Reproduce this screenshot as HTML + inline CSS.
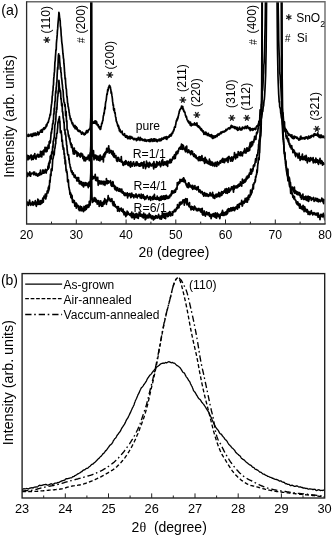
<!DOCTYPE html>
<html lang="en"><head><meta charset="utf-8"><title>XRD patterns</title>
<style>
html,body{margin:0;padding:0;background:#fff;}
body{width:333px;height:537px;overflow:hidden;}
svg text{font-family:"Liberation Sans", Arial, Helvetica, sans-serif;fill:#000;}
</style></head><body>
<svg width="333" height="537" viewBox="0 0 333 537" style="display:block">
<rect width="333" height="537" fill="#fff"/>
<defs><clipPath id="c1"><rect x="26.6" y="1.8" width="298.4" height="222.2"/></clipPath>
<clipPath id="c2"><rect x="22.1" y="273.6" width="302.6" height="224.4"/></clipPath></defs>
<g clip-path="url(#c1)">
<polyline points="26.6,136.9 26.8,135.4 27.1,135.7 27.3,136.0 27.6,135.0 27.8,135.7 28.1,135.8 28.3,134.4 28.6,136.4 28.8,136.0 29.1,135.3 29.3,135.7 29.6,135.9 29.8,135.4 30.1,135.3 30.3,134.3 30.6,135.6 30.8,135.2 31.1,135.4 31.3,134.0 31.6,136.3 31.8,135.3 32.1,134.8 32.3,136.4 32.6,134.8 32.8,133.8 33.1,134.7 33.3,133.3 33.6,135.7 33.8,134.6 34.1,134.2 34.3,135.4 34.6,133.5 34.8,134.9 35.1,132.9 35.3,133.9 35.6,133.6 35.8,135.5 36.0,135.5 36.3,133.9 36.5,134.7 36.8,133.7 37.0,134.2 37.3,133.0 37.5,132.1 37.8,131.9 38.0,133.6 38.3,135.0 38.5,133.3 38.8,132.6 39.0,134.3 39.3,133.0 39.5,132.4 39.8,132.3 40.0,131.9 40.3,131.5 40.5,130.4 40.8,131.7 41.0,131.4 41.3,132.2 41.5,130.9 41.8,129.6 42.0,130.9 42.3,132.2 42.5,130.1 42.8,129.5 43.0,129.0 43.3,128.7 43.5,128.8 43.8,127.8 44.0,129.5 44.3,127.8 44.5,127.7 44.8,128.8 45.0,128.5 45.3,127.0 45.5,127.4 45.7,127.5 46.0,126.5 46.2,124.8 46.5,126.5 46.7,126.0 47.0,125.1 47.2,123.4 47.5,123.5 47.7,122.9 48.0,122.1 48.2,122.5 48.5,121.7 48.7,120.0 49.0,119.2 49.2,118.4 49.5,117.4 49.7,116.7 50.0,114.8 50.2,114.0 50.5,114.9 50.7,112.2 51.0,109.0 51.2,106.7 51.5,104.3 51.7,103.4 52.0,100.6 52.2,96.2 52.5,95.5 52.7,91.5 53.0,90.5 53.2,86.1 53.5,84.8 53.7,79.2 54.0,76.4 54.2,73.7 54.5,71.4 54.7,67.6 54.9,62.4 55.2,60.6 55.4,57.1 55.7,53.3 55.9,49.9 56.2,50.0 56.4,43.6 56.7,40.0 56.9,38.4 57.2,34.9 57.4,31.1 57.7,28.4 57.9,24.8 58.2,21.4 58.4,19.3 58.7,16.0 58.9,12.4 59.2,13.6 59.4,15.6 59.7,18.5 59.9,19.4 60.2,21.0 60.4,26.3 60.7,27.6 60.9,29.5 61.2,35.3 61.4,36.8 61.7,41.3 61.9,43.1 62.2,44.9 62.4,47.2 62.7,50.5 62.9,53.5 63.2,55.3 63.4,58.1 63.7,59.2 63.9,63.7 64.1,64.7 64.4,69.1 64.6,72.7 64.9,75.8 65.1,79.1 65.4,78.1 65.6,83.0 65.9,86.0 66.1,88.5 66.4,89.1 66.6,93.0 66.9,97.3 67.1,96.6 67.4,100.5 67.6,103.1 67.9,103.6 68.1,106.7 68.4,106.9 68.6,108.6 68.9,109.9 69.1,112.2 69.4,113.4 69.6,115.8 69.9,115.6 70.1,117.6 70.4,119.3 70.6,119.6 70.9,118.5 71.1,120.8 71.4,120.5 71.6,121.9 71.9,122.3 72.1,123.8 72.4,123.9 72.6,122.9 72.9,123.6 73.1,125.5 73.3,125.3 73.6,126.5 73.8,126.2 74.1,125.6 74.3,127.4 74.6,126.2 74.8,125.4 75.1,128.8 75.3,125.9 75.6,128.1 75.8,128.4 76.1,127.9 76.3,126.9 76.6,129.1 76.8,127.6 77.1,128.0 77.3,129.1 77.6,130.5 77.8,130.1 78.1,131.1 78.3,130.3 78.6,130.7 78.8,130.0 79.1,130.8 79.3,131.7 79.6,130.9 79.8,131.6 80.1,130.9 80.3,131.3 80.6,132.0 80.8,132.1 81.1,132.9 81.3,132.9 81.6,134.2 81.8,132.8 82.1,132.7 82.3,132.1 82.6,133.0 82.8,133.4 83.0,132.9 83.3,133.6 83.5,134.4 83.8,133.8 84.0,133.5 84.3,134.8 84.5,134.0 84.8,133.9 85.0,134.4 85.3,134.3 85.5,132.7 85.8,132.1 86.0,132.5 86.3,132.0 86.5,130.5 86.8,132.8 87.0,132.1 87.3,132.6 87.5,130.8 87.8,132.4 88.0,130.9 88.3,131.0 88.5,129.5 88.8,130.1 89.0,129.8 89.3,129.3 89.5,129.4 89.8,128.6 90.0,128.6 90.3,126.3 90.5,123.4 90.8,117.5 91.0,83.6 91.3,-20.0 91.5,82.8 91.8,113.6 92.0,121.3 92.2,123.7 92.5,123.0 92.7,122.6 93.0,123.0 93.2,122.1 93.5,122.7 93.7,122.0 94.0,123.1 94.2,122.3 94.5,121.1 94.7,122.4 95.0,123.2 95.2,122.1 95.5,122.2 95.7,120.9 96.0,123.9 96.2,122.7 96.5,121.6 96.7,122.1 97.0,123.9 97.2,125.1 97.5,124.6 97.7,125.7 98.0,124.6 98.2,124.7 98.5,126.9 98.7,127.0 99.0,126.9 99.2,128.0 99.5,126.5 99.7,127.3 100.0,128.9 100.2,129.5 100.5,127.9 100.7,129.1 101.0,126.5 101.2,126.7 101.4,125.4 101.7,123.2 101.9,123.8 102.2,123.3 102.4,121.7 102.7,120.5 102.9,120.7 103.2,117.1 103.4,115.7 103.7,115.2 103.9,112.8 104.2,113.8 104.4,111.4 104.7,108.5 104.9,107.1 105.2,108.9 105.4,104.1 105.7,102.2 105.9,101.2 106.2,100.2 106.4,98.4 106.7,95.5 106.9,93.8 107.2,94.4 107.4,92.6 107.7,89.5 107.9,91.0 108.2,89.8 108.4,87.9 108.7,87.1 108.9,87.0 109.2,86.0 109.4,85.3 109.7,87.4 109.9,85.8 110.2,88.0 110.4,87.0 110.6,89.0 110.9,90.0 111.1,93.3 111.4,91.9 111.6,93.1 111.9,95.4 112.1,96.5 112.4,98.8 112.6,101.4 112.9,103.1 113.1,105.5 113.4,104.7 113.6,109.6 113.9,110.5 114.1,109.3 114.4,108.8 114.6,112.2 114.9,113.4 115.1,112.5 115.4,115.7 115.6,117.0 115.9,117.4 116.1,120.0 116.4,121.7 116.6,121.2 116.9,122.9 117.1,123.0 117.4,124.0 117.6,125.4 117.9,126.2 118.1,126.2 118.4,125.3 118.6,128.2 118.9,126.9 119.1,128.7 119.4,130.8 119.6,129.8 119.9,129.3 120.1,129.6 120.3,131.8 120.6,131.2 120.8,131.8 121.1,132.5 121.3,132.4 121.6,132.5 121.8,132.5 122.1,131.2 122.3,133.0 122.6,134.4 122.8,134.0 123.1,134.8 123.3,134.6 123.6,135.1 123.8,135.4 124.1,134.1 124.3,134.9 124.6,133.7 124.8,135.9 125.1,135.3 125.3,136.0 125.6,137.2 125.8,136.9 126.1,136.4 126.3,137.1 126.6,135.6 126.8,137.4 127.1,137.4 127.3,136.2 127.6,138.6 127.8,137.1 128.1,138.3 128.3,137.2 128.6,138.4 128.8,138.5 129.1,136.8 129.3,136.3 129.5,137.5 129.8,138.6 130.0,137.8 130.3,137.7 130.5,138.8 130.8,136.4 131.0,137.9 131.3,137.1 131.5,138.1 131.8,137.6 132.0,137.4 132.3,138.1 132.5,137.4 132.8,138.8 133.0,138.6 133.3,138.7 133.5,138.6 133.8,139.7 134.0,139.0 134.3,139.2 134.5,139.1 134.8,138.3 135.0,139.4 135.3,139.3 135.5,139.4 135.8,139.0 136.0,138.9 136.3,139.9 136.5,140.7 136.8,138.5 137.0,139.3 137.3,138.6 137.5,139.7 137.8,139.3 138.0,140.0 138.3,137.4 138.5,139.1 138.7,138.8 139.0,139.4 139.2,138.9 139.5,138.6 139.7,139.5 140.0,140.5 140.2,137.3 140.5,139.1 140.7,139.8 141.0,139.6 141.2,139.4 141.5,138.5 141.7,138.8 142.0,140.1 142.2,140.4 142.5,139.9 142.7,139.4 143.0,140.3 143.2,140.0 143.5,140.5 143.7,140.1 144.0,139.6 144.2,140.3 144.5,139.4 144.7,140.8 145.0,141.2 145.2,139.6 145.5,140.8 145.7,139.6 146.0,141.0 146.2,141.1 146.5,140.3 146.7,141.4 147.0,140.3 147.2,140.1 147.5,140.2 147.7,140.4 147.9,140.1 148.2,140.4 148.4,139.9 148.7,141.1 148.9,141.4 149.2,140.2 149.4,139.6 149.7,141.0 149.9,141.5 150.2,140.4 150.4,139.5 150.7,140.8 150.9,141.4 151.2,138.8 151.4,140.4 151.7,139.8 151.9,139.5 152.2,140.5 152.4,139.3 152.7,140.7 152.9,141.4 153.2,140.5 153.4,139.6 153.7,139.0 153.9,139.3 154.2,138.8 154.4,141.1 154.7,140.0 154.9,139.4 155.2,139.1 155.4,139.3 155.7,139.8 155.9,139.3 156.2,141.3 156.4,139.7 156.7,139.7 156.9,140.6 157.2,141.4 157.4,141.5 157.6,140.1 157.9,140.7 158.1,140.3 158.4,140.7 158.6,140.5 158.9,139.6 159.1,139.1 159.4,140.1 159.6,139.3 159.9,141.0 160.1,139.9 160.4,139.0 160.6,139.8 160.9,139.5 161.1,139.7 161.4,140.4 161.6,138.5 161.9,138.1 162.1,139.5 162.4,138.8 162.6,139.1 162.9,139.0 163.1,138.5 163.4,139.0 163.6,137.7 163.9,138.4 164.1,137.6 164.4,137.4 164.6,138.4 164.9,138.5 165.1,136.8 165.4,137.4 165.6,138.4 165.9,138.8 166.1,137.6 166.4,137.9 166.6,136.6 166.8,139.5 167.1,137.9 167.3,138.2 167.6,137.8 167.8,137.8 168.1,137.5 168.3,136.6 168.6,137.3 168.8,136.5 169.1,137.2 169.3,135.5 169.6,135.2 169.8,136.0 170.1,136.2 170.3,135.2 170.6,134.3 170.8,134.6 171.1,134.2 171.3,135.8 171.6,134.7 171.8,134.5 172.1,133.6 172.3,132.4 172.6,133.3 172.8,132.9 173.1,131.6 173.3,130.8 173.6,131.1 173.8,129.5 174.1,129.8 174.3,127.8 174.6,126.9 174.8,127.5 175.1,126.6 175.3,127.3 175.6,124.7 175.8,124.3 176.0,122.6 176.3,121.1 176.5,120.3 176.8,121.0 177.0,118.9 177.3,119.9 177.5,119.3 177.8,117.1 178.0,118.1 178.3,115.9 178.5,115.7 178.8,113.7 179.0,113.7 179.3,111.2 179.5,111.5 179.8,109.9 180.0,109.5 180.3,109.6 180.5,108.8 180.8,108.2 181.0,108.6 181.3,108.5 181.5,106.2 181.8,107.8 182.0,107.8 182.3,106.4 182.5,107.8 182.8,106.6 183.0,109.6 183.3,108.7 183.5,109.3 183.8,111.4 184.0,110.7 184.3,112.0 184.5,111.4 184.8,112.4 185.0,112.5 185.2,113.9 185.5,115.7 185.7,115.7 186.0,117.1 186.2,116.1 186.5,116.9 186.7,117.9 187.0,119.7 187.2,119.9 187.5,120.0 187.7,121.1 188.0,121.0 188.2,121.6 188.5,122.5 188.7,121.2 189.0,122.1 189.2,123.4 189.5,122.3 189.7,123.3 190.0,122.8 190.2,125.2 190.5,122.2 190.7,123.4 191.0,123.8 191.2,125.9 191.5,124.8 191.7,124.5 192.0,123.9 192.2,125.1 192.5,125.0 192.7,124.5 193.0,124.0 193.2,124.0 193.5,124.8 193.7,124.9 194.0,124.5 194.2,123.9 194.5,122.9 194.7,124.8 194.9,123.9 195.2,124.6 195.4,124.9 195.7,124.2 195.9,123.9 196.2,125.4 196.4,125.1 196.7,124.4 196.9,122.8 197.2,125.4 197.4,126.0 197.7,126.6 197.9,125.5 198.2,125.9 198.4,126.2 198.7,127.4 198.9,126.0 199.2,127.2 199.4,126.8 199.7,128.1 199.9,127.0 200.2,128.8 200.4,128.5 200.7,128.9 200.9,129.8 201.2,130.3 201.4,128.5 201.7,130.7 201.9,130.5 202.2,130.0 202.4,131.4 202.7,130.9 202.9,132.0 203.2,130.8 203.4,131.3 203.7,133.2 203.9,134.3 204.1,133.4 204.4,133.8 204.6,132.9 204.9,132.3 205.1,133.3 205.4,134.4 205.6,132.0 205.9,133.1 206.1,132.3 206.4,133.9 206.6,134.5 206.9,133.4 207.1,134.1 207.4,135.5 207.6,134.8 207.9,133.8 208.1,133.9 208.4,133.3 208.6,135.4 208.9,134.5 209.1,135.9 209.4,135.9 209.6,134.8 209.9,135.3 210.1,136.4 210.4,135.9 210.6,136.0 210.9,134.8 211.1,136.8 211.4,135.4 211.6,134.6 211.9,136.0 212.1,136.9 212.4,138.3 212.6,136.6 212.9,135.9 213.1,138.3 213.3,137.0 213.6,136.6 213.8,136.0 214.1,136.0 214.3,137.7 214.6,136.3 214.8,136.0 215.1,135.9 215.3,137.4 215.6,135.9 215.8,136.8 216.1,136.5 216.3,136.3 216.6,135.2 216.8,136.1 217.1,136.6 217.3,135.3 217.6,134.4 217.8,134.2 218.1,135.3 218.3,135.0 218.6,135.0 218.8,134.7 219.1,133.5 219.3,134.8 219.6,134.1 219.8,133.3 220.1,133.3 220.3,133.5 220.6,132.9 220.8,132.2 221.1,133.7 221.3,132.5 221.6,132.3 221.8,131.9 222.1,132.7 222.3,131.7 222.5,131.8 222.8,132.2 223.0,131.7 223.3,132.1 223.5,131.8 223.8,131.3 224.0,131.4 224.3,131.2 224.5,131.9 224.8,131.3 225.0,130.8 225.3,131.3 225.5,130.6 225.8,130.1 226.0,129.3 226.3,130.7 226.5,130.5 226.8,130.3 227.0,129.6 227.3,129.1 227.5,129.2 227.8,129.1 228.0,128.4 228.3,128.2 228.5,127.9 228.8,128.5 229.0,128.5 229.3,127.8 229.5,129.0 229.8,128.7 230.0,128.7 230.3,127.7 230.5,127.2 230.8,126.2 231.0,127.6 231.3,125.4 231.5,126.4 231.8,126.4 232.0,127.4 232.2,127.0 232.5,126.2 232.7,126.0 233.0,126.7 233.2,127.4 233.5,127.3 233.7,127.3 234.0,127.0 234.2,127.6 234.5,128.3 234.7,126.7 235.0,127.7 235.2,128.7 235.5,128.1 235.7,127.2 236.0,128.3 236.2,127.3 236.5,128.1 236.7,129.3 237.0,129.5 237.2,127.4 237.5,129.1 237.7,130.3 238.0,128.4 238.2,129.0 238.5,130.0 238.7,128.4 239.0,129.1 239.2,128.6 239.5,127.1 239.7,128.7 240.0,128.2 240.2,129.0 240.5,129.9 240.7,129.1 241.0,128.7 241.2,129.4 241.4,129.3 241.7,129.9 241.9,128.0 242.2,127.9 242.4,127.1 242.7,128.9 242.9,128.5 243.2,127.9 243.4,127.9 243.7,127.8 243.9,127.5 244.2,127.9 244.4,127.6 244.7,128.6 244.9,127.4 245.2,126.4 245.4,126.4 245.7,127.8 245.9,127.2 246.2,127.0 246.4,127.5 246.7,128.4 246.9,126.4 247.2,126.6 247.4,125.8 247.7,127.6 247.9,127.1 248.2,127.1 248.4,127.3 248.7,128.4 248.9,128.1 249.2,128.0 249.4,129.4 249.7,127.9 249.9,127.7 250.2,130.7 250.4,128.6 250.6,128.6 250.9,128.6 251.1,129.1 251.4,130.0 251.6,129.9 251.9,130.0 252.1,129.4 252.4,128.5 252.6,129.6 252.9,130.3 253.1,130.0 253.4,128.8 253.6,129.6 253.9,128.6 254.1,128.9 254.4,128.3 254.6,129.0 254.9,129.2 255.1,128.7 255.4,129.2 255.6,129.6 255.9,129.0 256.1,127.3 256.4,126.7 256.6,126.5 256.9,125.8 257.1,126.4 257.4,126.2 257.6,125.8 257.9,125.5 258.1,124.8 258.4,124.5 258.6,123.5 258.9,125.2 259.1,124.2 259.4,121.9 259.6,121.7 259.8,121.4 260.1,121.3 260.3,121.6 260.6,120.6 260.8,120.1 261.1,119.1 261.3,118.5 261.6,117.1 261.8,115.7 262.1,114.1 262.3,111.6 262.6,111.7 262.8,111.3 263.1,107.9 263.3,106.3 263.6,106.0 263.8,103.0 264.1,100.2 264.3,99.8 264.6,95.9 264.8,92.4 265.1,87.0 265.3,82.5 265.6,75.4 265.8,65.9 266.1,51.3 266.3,30.2 266.6,-2.7 266.8,-20.0 267.1,-20.0 267.3,-20.0 267.6,-20.0 267.8,-20.0 268.1,-20.0 268.3,-20.0 268.6,-20.0 268.8,-20.0 269.1,-20.0 269.3,-20.0 269.5,-20.0 269.8,-20.0 270.0,-20.0 270.3,-20.0 270.5,-20.0 270.8,-20.0 271.0,-20.0 271.3,-20.0 271.5,-20.0 271.8,-20.0 272.0,-20.0 272.3,-20.0 272.5,-20.0 272.8,-20.0 273.0,-20.0 273.3,-20.0 273.5,-20.0 273.8,-20.0 274.0,-20.0 274.3,-20.0 274.5,-20.0 274.8,-20.0 275.0,-20.0 275.3,-20.0 275.5,-20.0 275.8,-20.0 276.0,-20.0 276.3,-20.0 276.5,-20.0 276.8,-20.0 277.0,-7.4 277.3,27.6 277.5,48.9 277.8,65.1 278.0,76.4 278.3,84.6 278.5,89.0 278.7,94.3 279.0,98.6 279.2,102.3 279.5,101.5 279.7,106.6 280.0,107.8 280.2,107.8 280.5,109.5 280.7,112.7 281.0,114.0 281.2,115.9 281.5,118.1 281.7,118.3 282.0,119.8 282.2,121.1 282.5,122.4 282.7,124.2 283.0,125.1 283.2,124.6 283.5,124.9 283.7,127.9 284.0,127.1 284.2,127.4 284.5,126.9 284.7,129.2 285.0,128.2 285.2,129.0 285.5,128.8 285.7,129.9 286.0,130.6 286.2,129.7 286.5,131.0 286.7,131.7 287.0,131.1 287.2,131.4 287.5,132.3 287.7,132.3 287.9,134.0 288.2,133.3 288.4,134.9 288.7,135.3 288.9,133.8 289.2,134.9 289.4,134.6 289.7,134.3 289.9,134.9 290.2,135.1 290.4,136.0 290.7,136.4 290.9,135.0 291.2,135.8 291.4,136.8 291.7,137.5 291.9,134.8 292.2,137.8 292.4,136.9 292.7,138.3 292.9,137.1 293.2,136.7 293.4,137.6 293.7,138.7 293.9,138.0 294.2,136.0 294.4,138.2 294.7,137.0 294.9,137.4 295.2,137.2 295.4,136.6 295.7,137.1 295.9,137.3 296.2,137.5 296.4,138.1 296.7,137.8 296.9,137.0 297.1,138.0 297.4,138.7 297.6,138.7 297.9,138.2 298.1,138.8 298.4,139.0 298.6,139.6 298.9,140.2 299.1,138.6 299.4,138.5 299.6,139.6 299.9,139.7 300.1,139.7 300.4,136.7 300.6,138.2 300.9,136.0 301.1,139.0 301.4,138.2 301.6,137.9 301.9,137.8 302.1,138.9 302.4,137.7 302.6,138.7 302.9,138.5 303.1,138.5 303.4,138.5 303.6,138.4 303.9,137.6 304.1,138.8 304.4,138.7 304.6,138.2 304.9,139.0 305.1,138.9 305.4,137.0 305.6,137.7 305.9,137.7 306.1,137.0 306.4,137.8 306.6,136.9 306.8,137.4 307.1,138.0 307.3,137.8 307.6,137.7 307.8,139.0 308.1,137.0 308.3,137.3 308.6,136.1 308.8,137.4 309.1,137.9 309.3,138.0 309.6,136.6 309.8,137.0 310.1,137.9 310.3,136.8 310.6,137.4 310.8,135.8 311.1,137.3 311.3,137.0 311.6,136.5 311.8,135.4 312.1,135.5 312.3,135.6 312.6,135.8 312.8,135.4 313.1,135.3 313.3,135.6 313.6,136.7 313.8,134.0 314.1,134.3 314.3,134.1 314.6,134.4 314.8,133.6 315.1,135.2 315.3,135.0 315.6,134.9 315.8,134.4 316.0,135.2 316.3,135.1 316.5,135.2 316.8,134.4 317.0,135.3 317.3,133.8 317.5,135.8 317.8,132.9 318.0,135.0 318.3,134.8 318.5,136.3 318.8,134.8 319.0,137.3 319.3,135.0 319.5,137.3 319.8,136.1 320.0,135.9 320.3,136.3 320.5,137.7 320.8,136.8 321.0,134.8 321.3,137.4 321.5,136.8 321.8,135.5 322.0,137.4 322.3,136.2 322.5,137.1 322.8,137.3 323.0,136.6 323.3,137.5 323.5,136.2 323.8,136.8 324.0,136.3 324.3,136.6 324.5,138.0 324.8,136.7 325.0,135.9" fill="none" stroke="#000" stroke-width="1.7" stroke-linejoin="round" />
<polyline points="26.6,155.6 26.8,159.0 27.1,158.0 27.3,157.6 27.6,155.3 27.8,159.8 28.1,159.1 28.3,158.7 28.6,155.8 28.8,158.5 29.1,158.9 29.3,156.9 29.6,157.1 29.8,156.4 30.1,157.7 30.3,156.4 30.6,156.7 30.8,155.4 31.1,154.9 31.3,158.6 31.6,159.8 31.8,158.6 32.1,159.0 32.3,156.1 32.6,157.0 32.8,157.5 33.1,156.7 33.3,159.4 33.6,155.4 33.8,156.1 34.1,156.2 34.3,155.8 34.6,157.9 34.8,153.6 35.1,157.9 35.3,157.5 35.6,156.4 35.8,157.6 36.0,159.1 36.3,156.1 36.5,156.9 36.8,155.7 37.0,155.8 37.3,154.5 37.5,154.4 37.8,156.3 38.0,154.4 38.3,157.1 38.5,157.0 38.8,155.3 39.0,156.0 39.3,155.1 39.5,154.8 39.8,156.8 40.0,154.8 40.3,154.4 40.5,151.3 40.8,155.3 41.0,151.7 41.3,153.0 41.5,156.5 41.8,156.9 42.0,153.1 42.3,151.3 42.5,154.0 42.8,152.7 43.0,153.2 43.3,150.9 43.5,154.7 43.8,154.8 44.0,149.9 44.3,150.0 44.5,150.0 44.8,151.5 45.0,147.4 45.3,150.8 45.5,149.9 45.7,149.6 46.0,151.9 46.2,147.4 46.5,148.0 46.7,148.8 47.0,151.4 47.2,149.6 47.5,147.8 47.7,149.2 48.0,146.5 48.2,145.2 48.5,144.8 48.7,144.9 49.0,148.3 49.2,141.7 49.5,143.5 49.7,142.0 50.0,140.6 50.2,142.9 50.5,140.6 50.7,138.4 51.0,134.3 51.2,132.1 51.5,133.1 51.7,130.6 52.0,128.3 52.2,129.3 52.5,124.4 52.7,123.3 53.0,124.0 53.2,120.5 53.5,119.9 53.7,113.8 54.0,114.1 54.2,108.0 54.5,109.8 54.7,105.3 54.9,101.6 55.2,101.0 55.4,95.6 55.7,91.1 55.9,93.1 56.2,87.2 56.4,87.0 56.7,82.4 56.9,82.1 57.2,74.1 57.4,70.5 57.7,67.1 57.9,69.1 58.2,59.3 58.4,55.5 58.7,53.8 58.9,56.3 59.2,57.6 59.4,55.6 59.7,61.3 59.9,63.1 60.2,67.8 60.4,69.5 60.7,67.6 60.9,72.1 61.2,72.9 61.4,76.9 61.7,78.8 61.9,80.4 62.2,84.0 62.4,84.7 62.7,88.9 62.9,89.5 63.2,91.8 63.4,96.8 63.7,98.9 63.9,101.4 64.1,102.2 64.4,102.2 64.6,105.0 64.9,106.2 65.1,104.3 65.4,108.5 65.6,115.7 65.9,115.0 66.1,111.4 66.4,119.1 66.6,122.0 66.9,120.8 67.1,129.4 67.4,129.7 67.6,130.8 67.9,130.8 68.1,133.0 68.4,135.7 68.6,136.5 68.9,135.2 69.1,137.8 69.4,138.5 69.6,139.8 69.9,138.4 70.1,141.8 70.4,142.6 70.6,144.1 70.9,144.9 71.1,143.1 71.4,147.3 71.6,147.5 71.9,144.7 72.1,147.4 72.4,147.1 72.6,148.4 72.9,151.3 73.1,151.5 73.3,153.9 73.6,151.6 73.8,149.8 74.1,151.7 74.3,148.0 74.6,154.2 74.8,152.6 75.1,152.9 75.3,152.3 75.6,150.9 75.8,152.0 76.1,151.4 76.3,151.7 76.6,153.3 76.8,151.7 77.1,156.4 77.3,152.5 77.6,155.8 77.8,154.0 78.1,152.8 78.3,155.0 78.6,154.7 78.8,154.4 79.1,154.8 79.3,154.0 79.6,156.1 79.8,154.9 80.1,155.4 80.3,157.2 80.6,153.4 80.8,154.4 81.1,153.9 81.3,153.8 81.6,153.4 81.8,155.4 82.1,156.2 82.3,156.0 82.6,154.4 82.8,158.1 83.0,158.6 83.3,157.6 83.5,156.3 83.8,156.4 84.0,160.8 84.3,160.7 84.5,159.0 84.8,157.2 85.0,160.4 85.3,158.9 85.5,160.9 85.8,157.8 86.0,158.6 86.3,157.9 86.5,159.1 86.8,157.4 87.0,159.4 87.3,157.2 87.5,157.1 87.8,158.8 88.0,158.8 88.3,155.2 88.5,158.5 88.8,158.5 89.0,158.2 89.3,160.7 89.5,156.2 89.8,157.0 90.0,153.7 90.3,152.8 90.5,151.6 90.8,145.4 91.0,110.8 91.3,-20.0 91.5,111.6 91.8,146.3 92.0,151.1 92.2,154.7 92.5,153.5 92.7,155.7 93.0,156.4 93.2,155.0 93.5,150.7 93.7,155.0 94.0,159.8 94.2,155.9 94.5,155.1 94.7,156.6 95.0,158.3 95.2,157.0 95.5,156.6 95.7,155.0 96.0,156.9 96.2,155.7 96.5,157.9 96.7,159.9 97.0,159.7 97.2,157.6 97.5,157.1 97.7,156.1 98.0,159.4 98.2,159.8 98.5,160.2 98.7,159.3 99.0,156.9 99.2,156.2 99.5,160.6 99.7,157.2 100.0,160.8 100.2,155.0 100.5,156.4 100.7,157.0 101.0,158.7 101.2,159.5 101.4,157.9 101.7,159.5 101.9,156.8 102.2,157.6 102.4,156.3 102.7,157.0 102.9,156.4 103.2,157.6 103.4,161.9 103.7,154.0 103.9,155.7 104.2,156.7 104.4,155.3 104.7,157.0 104.9,152.6 105.2,155.0 105.4,152.0 105.7,154.0 105.9,152.2 106.2,152.3 106.4,150.8 106.7,148.4 106.9,149.1 107.2,152.3 107.4,150.8 107.7,151.4 107.9,148.1 108.2,150.8 108.4,151.5 108.7,145.8 108.9,150.1 109.2,153.2 109.4,148.8 109.7,152.2 109.9,151.3 110.2,152.7 110.4,151.0 110.6,150.6 110.9,151.6 111.1,151.4 111.4,150.6 111.6,150.9 111.9,154.1 112.1,151.7 112.4,151.3 112.6,152.6 112.9,155.5 113.1,151.2 113.4,155.6 113.6,156.7 113.9,157.0 114.1,154.1 114.4,153.5 114.6,155.6 114.9,155.9 115.1,157.7 115.4,156.5 115.6,156.3 115.9,155.6 116.1,158.0 116.4,158.7 116.6,160.7 116.9,159.2 117.1,161.5 117.4,161.3 117.6,157.9 117.9,157.4 118.1,157.9 118.4,158.7 118.6,157.5 118.9,159.6 119.1,160.1 119.4,161.2 119.6,160.4 119.9,159.7 120.1,161.0 120.3,159.6 120.6,160.7 120.8,159.3 121.1,161.9 121.3,156.5 121.6,162.0 121.8,162.2 122.1,161.1 122.3,162.0 122.6,162.2 122.8,164.3 123.1,165.1 123.3,162.8 123.6,165.4 123.8,162.4 124.1,164.0 124.3,164.0 124.6,161.7 124.8,164.2 125.1,162.7 125.3,164.4 125.6,162.1 125.8,160.7 126.1,161.1 126.3,162.9 126.6,163.4 126.8,163.7 127.1,162.3 127.3,164.4 127.6,163.2 127.8,163.7 128.1,165.4 128.3,163.9 128.6,161.6 128.8,165.4 129.1,164.0 129.3,163.1 129.5,165.8 129.8,162.8 130.0,164.1 130.3,163.7 130.5,167.1 130.8,161.5 131.0,164.2 131.3,164.7 131.5,165.8 131.8,163.7 132.0,163.5 132.3,166.2 132.5,163.5 132.8,164.3 133.0,163.8 133.3,164.2 133.5,161.8 133.8,163.2 134.0,164.3 134.3,164.7 134.5,166.2 134.8,165.5 135.0,165.5 135.3,163.9 135.5,165.5 135.8,163.0 136.0,163.9 136.3,161.8 136.5,162.2 136.8,165.7 137.0,164.6 137.3,162.0 137.5,164.5 137.8,164.5 138.0,163.5 138.3,165.2 138.5,164.3 138.7,164.9 139.0,166.1 139.2,163.9 139.5,166.0 139.7,164.1 140.0,164.2 140.2,166.1 140.5,164.5 140.7,163.2 141.0,164.3 141.2,165.0 141.5,162.6 141.7,165.6 142.0,164.8 142.2,163.1 142.5,163.2 142.7,165.6 143.0,162.9 143.2,168.1 143.5,163.9 143.7,165.4 144.0,161.5 144.2,165.3 144.5,164.3 144.7,165.8 145.0,165.2 145.2,165.0 145.5,168.6 145.7,166.2 146.0,164.1 146.2,165.6 146.5,161.0 146.7,163.8 147.0,166.7 147.2,164.0 147.5,165.2 147.7,163.1 147.9,166.0 148.2,165.4 148.4,165.0 148.7,166.2 148.9,167.3 149.2,166.0 149.4,162.3 149.7,165.3 149.9,165.3 150.2,163.9 150.4,163.5 150.7,165.6 150.9,165.9 151.2,166.0 151.4,164.7 151.7,166.0 151.9,165.5 152.2,164.6 152.4,165.7 152.7,164.3 152.9,163.3 153.2,165.2 153.4,166.6 153.7,169.0 153.9,161.7 154.2,164.2 154.4,163.5 154.7,165.6 154.9,164.2 155.2,165.8 155.4,167.4 155.7,164.7 155.9,165.5 156.2,167.1 156.4,166.0 156.7,161.5 156.9,166.5 157.2,162.2 157.4,163.7 157.6,163.2 157.9,163.0 158.1,163.1 158.4,165.0 158.6,163.5 158.9,162.7 159.1,163.5 159.4,164.5 159.6,161.5 159.9,165.3 160.1,163.3 160.4,165.8 160.6,166.7 160.9,165.0 161.1,165.4 161.4,163.8 161.6,162.8 161.9,160.7 162.1,162.9 162.4,162.2 162.6,159.4 162.9,163.4 163.1,165.4 163.4,163.5 163.6,165.1 163.9,162.8 164.1,162.0 164.4,163.2 164.6,162.7 164.9,161.9 165.1,164.7 165.4,163.7 165.6,162.2 165.9,163.9 166.1,163.2 166.4,164.1 166.6,165.2 166.8,161.7 167.1,161.0 167.3,164.7 167.6,166.4 167.8,162.0 168.1,161.7 168.3,161.4 168.6,162.8 168.8,162.8 169.1,161.9 169.3,163.0 169.6,160.4 169.8,160.2 170.1,159.3 170.3,162.8 170.6,162.1 170.8,162.7 171.1,159.5 171.3,162.5 171.6,160.3 171.8,160.6 172.1,160.2 172.3,159.0 172.6,158.9 172.8,157.0 173.1,158.6 173.3,158.4 173.6,156.4 173.8,157.5 174.1,158.8 174.3,155.6 174.6,154.6 174.8,155.0 175.1,156.3 175.3,158.3 175.6,155.3 175.8,155.1 176.0,152.2 176.3,154.2 176.5,154.6 176.8,152.2 177.0,152.5 177.3,151.0 177.5,153.0 177.8,153.3 178.0,151.2 178.3,151.7 178.5,150.8 178.8,148.9 179.0,148.2 179.3,148.2 179.5,148.8 179.8,147.4 180.0,148.5 180.3,148.1 180.5,149.1 180.8,148.0 181.0,146.0 181.3,147.1 181.5,144.0 181.8,149.2 182.0,145.8 182.3,146.2 182.5,149.5 182.8,144.8 183.0,145.8 183.3,146.8 183.5,145.9 183.8,147.6 184.0,148.4 184.3,149.6 184.5,148.7 184.8,150.2 185.0,149.3 185.2,150.6 185.5,151.8 185.7,147.2 186.0,149.9 186.2,150.7 186.5,147.3 186.7,146.0 187.0,151.5 187.2,150.2 187.5,152.7 187.7,151.7 188.0,151.6 188.2,151.0 188.5,151.6 188.7,149.9 189.0,150.5 189.2,152.6 189.5,151.3 189.7,152.8 190.0,152.2 190.2,151.7 190.5,151.3 190.7,154.6 191.0,152.3 191.2,154.0 191.5,150.9 191.7,153.6 192.0,153.7 192.2,152.3 192.5,151.5 192.7,154.1 193.0,154.9 193.2,154.5 193.5,154.1 193.7,156.3 194.0,154.3 194.2,153.8 194.5,156.2 194.7,155.4 194.9,154.9 195.2,157.4 195.4,155.6 195.7,157.5 195.9,155.3 196.2,156.7 196.4,158.4 196.7,157.4 196.9,158.3 197.2,158.5 197.4,158.9 197.7,158.2 197.9,158.6 198.2,157.8 198.4,160.7 198.7,157.1 198.9,159.8 199.2,156.6 199.4,159.1 199.7,160.5 199.9,157.0 200.2,160.7 200.4,156.9 200.7,157.2 200.9,159.2 201.2,157.0 201.4,160.3 201.7,160.1 201.9,155.6 202.2,157.9 202.4,159.0 202.7,160.5 202.9,158.5 203.2,159.1 203.4,161.0 203.7,158.7 203.9,160.6 204.1,158.9 204.4,162.4 204.6,163.4 204.9,159.6 205.1,157.3 205.4,158.3 205.6,162.5 205.9,160.4 206.1,162.5 206.4,159.5 206.6,160.5 206.9,162.0 207.1,163.2 207.4,162.0 207.6,161.2 207.9,163.1 208.1,163.1 208.4,163.9 208.6,162.7 208.9,162.0 209.1,162.6 209.4,159.2 209.6,163.1 209.9,164.6 210.1,164.2 210.4,162.0 210.6,161.2 210.9,165.1 211.1,162.7 211.4,162.9 211.6,163.2 211.9,162.0 212.1,163.0 212.4,165.3 212.6,162.3 212.9,165.9 213.1,163.7 213.3,163.4 213.6,164.6 213.8,164.7 214.1,164.9 214.3,164.4 214.6,163.0 214.8,166.3 215.1,163.9 215.3,162.3 215.6,164.8 215.8,164.3 216.1,163.0 216.3,163.6 216.6,163.9 216.8,166.4 217.1,163.4 217.3,161.7 217.6,162.8 217.8,164.4 218.1,163.5 218.3,162.7 218.6,164.8 218.8,164.6 219.1,163.1 219.3,163.4 219.6,162.1 219.8,162.0 220.1,162.3 220.3,160.6 220.6,163.2 220.8,162.2 221.1,161.3 221.3,161.4 221.6,161.1 221.8,159.8 222.1,159.5 222.3,159.0 222.5,162.2 222.8,158.3 223.0,160.9 223.3,162.3 223.5,159.9 223.8,160.4 224.0,160.2 224.3,159.0 224.5,162.7 224.8,160.3 225.0,159.0 225.3,159.6 225.5,160.6 225.8,159.4 226.0,159.0 226.3,161.0 226.5,158.4 226.8,159.1 227.0,159.7 227.3,158.4 227.5,159.0 227.8,157.4 228.0,162.4 228.3,157.9 228.5,159.0 228.8,156.6 229.0,156.5 229.3,158.5 229.5,158.0 229.8,157.5 230.0,158.1 230.3,159.7 230.5,161.2 230.8,161.2 231.0,157.8 231.3,160.6 231.5,160.5 231.8,156.9 232.0,157.2 232.2,157.9 232.5,161.2 232.7,157.9 233.0,157.8 233.2,159.9 233.5,157.1 233.7,156.5 234.0,157.2 234.2,156.3 234.5,152.6 234.7,154.1 235.0,157.1 235.2,154.3 235.5,158.9 235.7,156.8 236.0,157.5 236.2,157.7 236.5,154.3 236.7,155.8 237.0,154.5 237.2,156.4 237.5,157.5 237.7,154.9 238.0,155.2 238.2,151.5 238.5,153.6 238.7,153.4 239.0,153.2 239.2,154.4 239.5,155.3 239.7,153.7 240.0,154.8 240.2,152.2 240.5,155.6 240.7,154.5 241.0,151.8 241.2,154.7 241.4,153.3 241.7,155.3 241.9,154.4 242.2,153.4 242.4,155.9 242.7,152.9 242.9,152.3 243.2,152.9 243.4,152.8 243.7,151.2 243.9,153.0 244.2,152.4 244.4,150.7 244.7,148.6 244.9,152.1 245.2,152.4 245.4,151.8 245.7,151.7 245.9,153.1 246.2,150.2 246.4,152.2 246.7,149.0 246.9,147.8 247.2,148.9 247.4,148.1 247.7,149.8 247.9,151.2 248.2,148.5 248.4,149.4 248.7,151.0 248.9,149.9 249.2,147.0 249.4,146.1 249.7,150.2 249.9,144.5 250.2,142.8 250.4,142.4 250.6,147.3 250.9,142.8 251.1,145.0 251.4,144.8 251.6,146.5 251.9,141.7 252.1,143.5 252.4,143.9 252.6,144.9 252.9,141.9 253.1,142.1 253.4,141.2 253.6,142.4 253.9,141.4 254.1,139.2 254.4,140.0 254.6,136.4 254.9,138.3 255.1,136.8 255.4,136.6 255.6,137.8 255.9,139.5 256.1,136.0 256.4,134.2 256.6,132.5 256.9,134.0 257.1,131.8 257.4,132.7 257.6,132.4 257.9,130.1 258.1,127.7 258.4,128.4 258.6,124.5 258.9,121.0 259.1,125.2 259.4,125.3 259.6,122.4 259.8,117.5 260.1,109.9 260.3,114.0 260.6,114.4 260.8,109.8 261.1,111.4 261.3,104.4 261.6,104.4 261.8,100.9 262.1,98.0 262.3,91.5 262.6,90.2 262.8,87.8 263.1,81.9 263.3,75.6 263.6,72.3 263.8,65.5 264.1,63.0 264.3,57.8 264.6,49.1 264.8,39.7 265.1,27.4 265.3,15.6 265.6,-8.4 265.8,-20.0 266.1,-20.0 266.3,-20.0 266.6,-20.0 266.8,-20.0 267.1,-20.0 267.3,-20.0 267.6,-20.0 267.8,-20.0 268.1,-20.0 268.3,-20.0 268.6,-20.0 268.8,-20.0 269.1,-20.0 269.3,-20.0 269.5,-20.0 269.8,-20.0 270.0,-20.0 270.3,-20.0 270.5,-20.0 270.8,-20.0 271.0,-20.0 271.3,-20.0 271.5,-20.0 271.8,-20.0 272.0,-20.0 272.3,-20.0 272.5,-20.0 272.8,-20.0 273.0,-20.0 273.3,-20.0 273.5,-20.0 273.8,-20.0 274.0,-20.0 274.3,-20.0 274.5,-20.0 274.8,-20.0 275.0,-20.0 275.3,-20.0 275.5,-20.0 275.8,-20.0 276.0,-20.0 276.3,-20.0 276.5,-20.0 276.8,-20.0 277.0,-20.0 277.3,-20.0 277.5,-20.0 277.8,-20.0 278.0,-4.5 278.3,14.6 278.5,23.8 278.7,39.9 279.0,49.6 279.2,55.0 279.5,59.2 279.7,72.9 280.0,74.5 280.2,76.5 280.5,82.5 280.7,84.4 281.0,88.6 281.2,92.2 281.5,98.5 281.7,103.8 282.0,107.2 282.2,108.1 282.5,112.7 282.7,114.1 283.0,112.7 283.2,115.8 283.5,120.1 283.7,122.6 284.0,125.0 284.2,121.5 284.5,122.1 284.7,131.2 285.0,128.4 285.2,132.0 285.5,131.4 285.7,130.7 286.0,136.9 286.2,135.7 286.5,138.3 286.7,137.9 287.0,135.9 287.2,137.7 287.5,139.9 287.7,138.0 287.9,139.9 288.2,141.9 288.4,138.5 288.7,140.4 288.9,142.4 289.2,144.7 289.4,143.6 289.7,143.4 289.9,146.3 290.2,145.0 290.4,147.5 290.7,147.0 290.9,146.1 291.2,148.1 291.4,149.0 291.7,145.6 291.9,148.3 292.2,148.2 292.4,148.9 292.7,150.2 292.9,152.7 293.2,150.2 293.4,150.8 293.7,149.9 293.9,151.9 294.2,152.5 294.4,150.8 294.7,152.7 294.9,153.7 295.2,155.3 295.4,152.8 295.7,156.6 295.9,155.1 296.2,154.9 296.4,154.8 296.7,153.9 296.9,153.3 297.1,154.3 297.4,154.8 297.6,154.9 297.9,157.1 298.1,158.1 298.4,156.5 298.6,157.0 298.9,154.8 299.1,153.1 299.4,156.0 299.6,157.0 299.9,158.3 300.1,160.4 300.4,157.1 300.6,158.6 300.9,158.5 301.1,156.8 301.4,157.8 301.6,157.5 301.9,159.4 302.1,155.4 302.4,154.1 302.6,158.0 302.9,159.5 303.1,159.7 303.4,157.2 303.6,159.4 303.9,157.2 304.1,159.2 304.4,156.9 304.6,156.2 304.9,159.7 305.1,156.7 305.4,156.5 305.6,160.3 305.9,158.9 306.1,155.4 306.4,160.5 306.6,156.9 306.8,158.4 307.1,158.8 307.3,162.8 307.6,159.8 307.8,161.3 308.1,159.8 308.3,160.5 308.6,157.8 308.8,159.8 309.1,158.8 309.3,158.3 309.6,160.3 309.8,161.5 310.1,160.1 310.3,158.8 310.6,160.2 310.8,157.6 311.1,159.6 311.3,159.9 311.6,159.6 311.8,159.1 312.1,160.1 312.3,158.7 312.6,159.4 312.8,161.1 313.1,157.6 313.3,162.9 313.6,161.7 313.8,161.5 314.1,159.9 314.3,161.0 314.6,160.3 314.8,162.2 315.1,162.2 315.3,162.7 315.6,161.1 315.8,158.2 316.0,160.1 316.3,160.9 316.5,162.1 316.8,159.7 317.0,161.1 317.3,161.0 317.5,159.8 317.8,160.1 318.0,163.4 318.3,160.7 318.5,164.4 318.8,161.8 319.0,160.3 319.3,162.4 319.5,161.2 319.8,161.1 320.0,158.3 320.3,162.6 320.5,161.6 320.8,163.7 321.0,162.4 321.3,162.0 321.5,160.6 321.8,162.1 322.0,161.5 322.3,161.4 322.5,165.1 322.8,162.5 323.0,163.4 323.3,164.4 323.5,162.9 323.8,163.7 324.0,163.7 324.3,163.8 324.5,164.1 324.8,163.9 325.0,163.5" fill="none" stroke="#000" stroke-width="1.7" stroke-linejoin="round" />
<polyline points="26.6,172.9 26.8,172.2 27.1,173.8 27.3,175.5 27.6,176.4 27.8,173.7 28.1,174.3 28.3,174.8 28.6,173.4 28.8,173.7 29.1,174.1 29.3,174.2 29.6,175.6 29.8,171.9 30.1,175.2 30.3,175.0 30.6,176.2 30.8,173.6 31.1,173.8 31.3,174.3 31.6,173.5 31.8,173.1 32.1,173.5 32.3,173.7 32.6,173.3 32.8,173.5 33.1,173.1 33.3,173.5 33.6,172.0 33.8,174.8 34.1,173.8 34.3,173.4 34.6,172.0 34.8,174.3 35.1,173.6 35.3,173.9 35.6,173.9 35.8,173.7 36.0,175.5 36.3,173.3 36.5,173.6 36.8,174.6 37.0,174.4 37.3,175.4 37.5,175.8 37.8,176.1 38.0,175.4 38.3,173.9 38.5,174.0 38.8,173.7 39.0,175.4 39.3,173.5 39.5,173.0 39.8,172.8 40.0,174.9 40.3,172.5 40.5,170.2 40.8,174.4 41.0,173.5 41.3,174.0 41.5,174.3 41.8,173.6 42.0,173.6 42.3,173.1 42.5,172.2 42.8,170.1 43.0,170.0 43.3,172.9 43.5,173.2 43.8,172.3 44.0,171.1 44.3,173.0 44.5,172.1 44.8,171.9 45.0,170.9 45.3,169.5 45.5,169.4 45.7,171.2 46.0,172.7 46.2,173.0 46.5,170.3 46.7,171.0 47.0,170.3 47.2,170.0 47.5,169.4 47.7,169.4 48.0,166.1 48.2,169.2 48.5,165.4 48.7,163.4 49.0,168.0 49.2,162.1 49.5,162.3 49.7,160.6 50.0,163.0 50.2,156.3 50.5,159.5 50.7,155.4 51.0,159.0 51.2,159.0 51.5,155.8 51.7,151.8 52.0,153.5 52.2,153.8 52.5,148.8 52.7,146.0 53.0,147.8 53.2,141.1 53.5,141.5 53.7,139.8 54.0,138.1 54.2,137.5 54.5,132.2 54.7,127.9 54.9,124.8 55.2,124.2 55.4,122.5 55.7,120.9 55.9,117.8 56.2,111.3 56.4,112.4 56.7,107.5 56.9,109.5 57.2,103.3 57.4,100.4 57.7,96.6 57.9,96.2 58.2,90.9 58.4,93.4 58.7,87.5 58.9,80.4 59.2,83.9 59.4,87.3 59.7,88.4 59.9,90.7 60.2,91.8 60.4,90.4 60.7,92.8 60.9,99.3 61.2,98.6 61.4,101.8 61.7,106.0 61.9,103.1 62.2,104.8 62.4,111.9 62.7,111.6 62.9,113.7 63.2,118.3 63.4,117.9 63.7,120.5 63.9,123.1 64.1,122.0 64.4,130.1 64.6,129.3 64.9,129.3 65.1,134.3 65.4,132.7 65.6,135.0 65.9,136.2 66.1,140.2 66.4,141.5 66.6,145.0 66.9,145.4 67.1,149.3 67.4,151.5 67.6,153.6 67.9,154.7 68.1,155.3 68.4,155.6 68.6,154.9 68.9,159.9 69.1,158.4 69.4,162.8 69.6,163.5 69.9,164.4 70.1,165.9 70.4,167.8 70.6,167.2 70.9,169.4 71.1,171.1 71.4,171.5 71.6,172.2 71.9,170.8 72.1,170.9 72.4,174.3 72.6,173.2 72.9,173.2 73.1,174.5 73.3,172.9 73.6,174.7 73.8,175.8 74.1,175.2 74.3,177.4 74.6,176.7 74.8,177.3 75.1,175.2 75.3,176.4 75.6,176.8 75.8,178.1 76.1,178.1 76.3,177.8 76.6,178.6 76.8,180.8 77.1,178.3 77.3,177.6 77.6,180.3 77.8,180.9 78.1,179.7 78.3,181.1 78.6,177.6 78.8,181.0 79.1,180.4 79.3,183.7 79.6,181.6 79.8,183.9 80.1,181.6 80.3,181.8 80.6,181.8 80.8,181.5 81.1,182.7 81.3,184.6 81.6,181.8 81.8,183.9 82.1,185.4 82.3,184.6 82.6,185.2 82.8,185.4 83.0,185.8 83.3,182.6 83.5,187.0 83.8,185.2 84.0,183.7 84.3,184.0 84.5,183.8 84.8,185.3 85.0,182.7 85.3,182.8 85.5,182.7 85.8,185.5 86.0,183.5 86.3,184.6 86.5,183.0 86.8,184.2 87.0,183.8 87.3,183.6 87.5,185.8 87.8,184.4 88.0,183.3 88.3,187.7 88.5,183.6 88.8,182.9 89.0,182.0 89.3,186.2 89.5,183.7 89.8,183.2 90.0,182.8 90.3,180.3 90.5,178.5 90.8,172.7 91.0,136.0 91.3,-20.0 91.5,135.8 91.8,169.8 92.0,177.5 92.2,178.4 92.5,179.0 92.7,176.1 93.0,177.7 93.2,177.9 93.5,178.5 93.7,178.6 94.0,177.7 94.2,176.7 94.5,177.3 94.7,176.8 95.0,177.4 95.2,174.4 95.5,178.5 95.7,180.4 96.0,179.1 96.2,177.5 96.5,177.3 96.7,178.6 97.0,180.8 97.2,179.7 97.5,177.8 97.7,177.3 98.0,182.2 98.2,185.3 98.5,180.7 98.7,182.0 99.0,182.6 99.2,182.6 99.5,183.8 99.7,180.8 100.0,182.7 100.2,181.5 100.5,183.5 100.7,183.1 101.0,184.1 101.2,181.0 101.4,181.4 101.7,182.6 101.9,183.3 102.2,182.7 102.4,181.8 102.7,182.8 102.9,181.3 103.2,184.7 103.4,182.3 103.7,181.5 103.9,183.5 104.2,181.3 104.4,184.1 104.7,182.4 104.9,185.3 105.2,183.7 105.4,181.8 105.7,183.6 105.9,182.3 106.2,183.2 106.4,178.6 106.7,181.6 106.9,181.5 107.2,183.8 107.4,180.7 107.7,182.9 107.9,182.2 108.2,180.8 108.4,181.7 108.7,183.1 108.9,181.8 109.2,181.6 109.4,181.5 109.7,181.7 109.9,182.0 110.2,181.9 110.4,180.7 110.6,182.5 110.9,183.3 111.1,185.5 111.4,182.9 111.6,186.1 111.9,183.5 112.1,186.4 112.4,181.8 112.6,184.2 112.9,181.6 113.1,183.0 113.4,184.4 113.6,186.3 113.9,185.0 114.1,186.5 114.4,185.5 114.6,188.8 114.9,186.3 115.1,189.7 115.4,189.6 115.6,186.6 115.9,188.5 116.1,187.5 116.4,190.4 116.6,188.9 116.9,190.8 117.1,188.5 117.4,188.2 117.6,187.7 117.9,189.1 118.1,189.9 118.4,189.7 118.6,190.0 118.9,191.2 119.1,190.3 119.4,189.4 119.6,188.7 119.9,189.0 120.1,189.9 120.3,191.6 120.6,191.3 120.8,189.5 121.1,191.3 121.3,190.1 121.6,192.0 121.8,189.0 122.1,193.0 122.3,192.2 122.6,193.0 122.8,192.6 123.1,191.5 123.3,193.4 123.6,193.4 123.8,194.2 124.1,194.2 124.3,195.4 124.6,194.8 124.8,192.9 125.1,195.6 125.3,193.1 125.6,193.9 125.8,194.7 126.1,193.6 126.3,193.9 126.6,195.5 126.8,193.5 127.1,193.2 127.3,192.8 127.6,197.9 127.8,193.9 128.1,194.2 128.3,194.6 128.6,196.0 128.8,193.9 129.1,193.9 129.3,194.6 129.5,194.4 129.8,193.9 130.0,193.5 130.3,196.1 130.5,195.5 130.8,197.7 131.0,195.3 131.3,195.5 131.5,197.0 131.8,193.2 132.0,196.3 132.3,194.4 132.5,194.3 132.8,195.7 133.0,196.2 133.3,194.8 133.5,196.4 133.8,197.9 134.0,197.0 134.3,196.4 134.5,195.2 134.8,195.9 135.0,196.4 135.3,195.9 135.5,196.5 135.8,197.0 136.0,193.9 136.3,195.9 136.5,196.3 136.8,195.2 137.0,195.2 137.3,197.9 137.5,196.2 137.8,196.0 138.0,195.7 138.3,196.1 138.5,195.7 138.7,196.0 139.0,194.4 139.2,194.5 139.5,195.7 139.7,196.2 140.0,196.5 140.2,198.0 140.5,197.0 140.7,197.9 141.0,197.1 141.2,194.0 141.5,196.8 141.7,198.3 142.0,196.5 142.2,196.3 142.5,195.2 142.7,197.1 143.0,195.6 143.2,194.7 143.5,197.3 143.7,198.2 144.0,196.7 144.2,196.8 144.5,196.5 144.7,199.6 145.0,198.1 145.2,197.3 145.5,197.5 145.7,198.0 146.0,198.9 146.2,196.6 146.5,196.4 146.7,197.8 147.0,197.2 147.2,195.7 147.5,197.5 147.7,197.2 147.9,197.1 148.2,197.7 148.4,197.8 148.7,199.5 148.9,198.2 149.2,198.3 149.4,197.0 149.7,197.5 149.9,196.6 150.2,196.5 150.4,198.4 150.7,200.3 150.9,198.1 151.2,197.8 151.4,198.0 151.7,198.1 151.9,197.2 152.2,197.1 152.4,198.4 152.7,199.6 152.9,198.1 153.2,196.1 153.4,199.3 153.7,198.7 153.9,197.0 154.2,197.2 154.4,194.3 154.7,197.8 154.9,198.4 155.2,199.2 155.4,198.9 155.7,197.9 155.9,198.6 156.2,198.8 156.4,199.3 156.7,198.9 156.9,199.5 157.2,196.0 157.4,198.7 157.6,198.8 157.9,197.3 158.1,199.2 158.4,198.3 158.6,197.7 158.9,198.1 159.1,200.4 159.4,200.4 159.6,200.4 159.9,199.6 160.1,199.3 160.4,196.6 160.6,197.2 160.9,197.2 161.1,200.2 161.4,197.2 161.6,196.2 161.9,196.9 162.1,199.2 162.4,197.4 162.6,199.0 162.9,197.0 163.1,199.3 163.4,195.9 163.6,197.7 163.9,198.7 164.1,197.7 164.4,197.1 164.6,199.5 164.9,195.8 165.1,196.1 165.4,198.6 165.6,199.1 165.9,196.8 166.1,195.3 166.4,195.3 166.6,195.9 166.8,196.8 167.1,198.4 167.3,198.0 167.6,198.4 167.8,196.5 168.1,198.3 168.3,198.4 168.6,198.2 168.8,196.8 169.1,196.0 169.3,197.7 169.6,197.6 169.8,195.0 170.1,195.4 170.3,195.6 170.6,196.0 170.8,195.9 171.1,193.7 171.3,195.1 171.6,191.7 171.8,190.9 172.1,192.7 172.3,193.6 172.6,191.0 172.8,192.6 173.1,192.7 173.3,191.9 173.6,192.0 173.8,193.0 174.1,191.0 174.3,190.5 174.6,191.6 174.8,191.9 175.1,189.9 175.3,192.2 175.6,191.3 175.8,189.1 176.0,189.3 176.3,188.0 176.5,189.4 176.8,187.6 177.0,189.2 177.3,182.5 177.5,183.8 177.8,184.1 178.0,184.9 178.3,183.2 178.5,182.4 178.8,183.7 179.0,181.9 179.3,182.5 179.5,183.1 179.8,183.0 180.0,179.4 180.3,180.3 180.5,181.6 180.8,180.7 181.0,179.8 181.3,181.3 181.5,180.1 181.8,179.9 182.0,181.0 182.3,179.1 182.5,181.2 182.8,180.0 183.0,179.9 183.3,181.7 183.5,177.8 183.8,178.0 184.0,178.5 184.3,182.0 184.5,181.7 184.8,181.0 185.0,180.9 185.2,180.2 185.5,183.2 185.7,183.1 186.0,184.0 186.2,185.0 186.5,184.4 186.7,186.2 187.0,184.2 187.2,187.1 187.5,186.1 187.7,184.6 188.0,185.2 188.2,187.8 188.5,182.9 188.7,183.0 189.0,182.9 189.2,183.9 189.5,184.3 189.7,187.0 190.0,185.4 190.2,187.0 190.5,185.7 190.7,185.3 191.0,186.8 191.2,186.6 191.5,187.4 191.7,187.9 192.0,186.0 192.2,188.0 192.5,185.4 192.7,189.4 193.0,185.9 193.2,187.7 193.5,188.8 193.7,187.8 194.0,186.7 194.2,188.7 194.5,186.4 194.7,188.8 194.9,185.6 195.2,189.0 195.4,189.0 195.7,188.8 195.9,189.2 196.2,187.8 196.4,187.9 196.7,190.0 196.9,187.2 197.2,188.3 197.4,188.8 197.7,188.8 197.9,189.4 198.2,186.6 198.4,190.0 198.7,190.4 198.9,191.8 199.2,191.9 199.4,190.2 199.7,190.7 199.9,189.9 200.2,191.0 200.4,190.8 200.7,192.8 200.9,192.1 201.2,192.6 201.4,191.5 201.7,191.8 201.9,192.9 202.2,191.6 202.4,193.6 202.7,194.5 202.9,192.9 203.2,193.8 203.4,193.0 203.7,196.1 203.9,194.4 204.1,195.0 204.4,193.4 204.6,192.5 204.9,193.3 205.1,195.5 205.4,195.8 205.6,194.8 205.9,194.1 206.1,194.8 206.4,195.9 206.6,193.5 206.9,195.9 207.1,193.8 207.4,195.2 207.6,195.6 207.9,195.3 208.1,195.0 208.4,196.5 208.6,194.8 208.9,194.8 209.1,194.3 209.4,195.2 209.6,195.5 209.9,194.5 210.1,192.6 210.4,195.3 210.6,195.7 210.9,194.1 211.1,195.4 211.4,195.7 211.6,194.4 211.9,196.0 212.1,195.7 212.4,194.3 212.6,192.3 212.9,194.8 213.1,197.8 213.3,197.6 213.6,196.0 213.8,195.0 214.1,198.0 214.3,197.1 214.6,197.7 214.8,198.5 215.1,196.4 215.3,196.0 215.6,194.8 215.8,195.8 216.1,194.2 216.3,196.3 216.6,194.9 216.8,197.1 217.1,194.6 217.3,195.5 217.6,194.0 217.8,196.1 218.1,194.0 218.3,196.4 218.6,195.6 218.8,192.4 219.1,193.0 219.3,194.8 219.6,194.4 219.8,196.8 220.1,193.2 220.3,194.2 220.6,193.9 220.8,193.9 221.1,195.5 221.3,193.4 221.6,191.6 221.8,195.3 222.1,194.2 222.3,191.9 222.5,192.7 222.8,192.9 223.0,193.0 223.3,193.3 223.5,191.6 223.8,191.4 224.0,190.9 224.3,191.4 224.5,191.7 224.8,192.2 225.0,189.0 225.3,190.3 225.5,191.7 225.8,193.2 226.0,192.4 226.3,188.6 226.5,188.7 226.8,191.6 227.0,191.1 227.3,191.2 227.5,193.3 227.8,189.2 228.0,192.3 228.3,190.7 228.5,189.7 228.8,187.9 229.0,188.7 229.3,192.2 229.5,190.2 229.8,191.1 230.0,190.5 230.3,189.4 230.5,190.6 230.8,189.5 231.0,188.1 231.3,187.6 231.5,186.9 231.8,187.7 232.0,187.2 232.2,188.9 232.5,187.8 232.7,187.4 233.0,186.6 233.2,190.0 233.5,192.2 233.7,188.6 234.0,185.5 234.2,189.4 234.5,187.0 234.7,188.4 235.0,187.6 235.2,187.9 235.5,187.0 235.7,186.1 236.0,187.7 236.2,186.0 236.5,187.8 236.7,185.8 237.0,186.7 237.2,185.7 237.5,187.6 237.7,185.1 238.0,184.9 238.2,186.8 238.5,185.9 238.7,185.2 239.0,184.0 239.2,185.4 239.5,185.6 239.7,186.0 240.0,183.9 240.2,185.2 240.5,181.9 240.7,184.4 241.0,182.8 241.2,184.8 241.4,182.9 241.7,186.1 241.9,182.8 242.2,182.7 242.4,179.2 242.7,180.2 242.9,183.1 243.2,181.0 243.4,183.2 243.7,180.6 243.9,181.9 244.2,180.0 244.4,181.6 244.7,181.9 244.9,182.3 245.2,179.9 245.4,179.0 245.7,181.2 245.9,180.3 246.2,180.1 246.4,177.1 246.7,179.4 246.9,177.7 247.2,176.2 247.4,176.9 247.7,178.4 247.9,177.0 248.2,176.4 248.4,176.2 248.7,174.8 248.9,177.3 249.2,175.5 249.4,173.1 249.7,172.8 249.9,173.5 250.2,173.6 250.4,174.0 250.6,169.0 250.9,173.7 251.1,174.2 251.4,171.7 251.6,173.7 251.9,170.4 252.1,170.4 252.4,168.9 252.6,171.3 252.9,170.1 253.1,169.5 253.4,165.5 253.6,167.2 253.9,164.9 254.1,166.0 254.4,165.6 254.6,165.9 254.9,163.0 255.1,162.4 255.4,160.8 255.6,158.8 255.9,162.4 256.1,159.6 256.4,160.5 256.6,158.7 256.9,154.9 257.1,154.6 257.4,155.4 257.6,154.5 257.9,152.7 258.1,150.0 258.4,149.4 258.6,144.3 258.9,144.0 259.1,140.1 259.4,141.8 259.6,138.9 259.8,137.4 260.1,133.5 260.3,126.5 260.6,127.0 260.8,125.9 261.1,121.0 261.3,117.2 261.6,109.3 261.8,90.5 262.1,61.3 262.3,-17.8 262.6,-20.0 262.8,-20.0 263.1,-20.0 263.3,-20.0 263.6,-20.0 263.8,-20.0 264.1,-20.0 264.3,-20.0 264.6,-20.0 264.8,-20.0 265.1,-20.0 265.3,-20.0 265.6,-20.0 265.8,-20.0 266.1,-20.0 266.3,-20.0 266.6,-20.0 266.8,-20.0 267.1,-20.0 267.3,-20.0 267.6,-20.0 267.8,-20.0 268.1,-20.0 268.3,-20.0 268.6,-20.0 268.8,-20.0 269.1,-20.0 269.3,-20.0 269.5,-20.0 269.8,-20.0 270.0,-20.0 270.3,-20.0 270.5,-20.0 270.8,-20.0 271.0,-20.0 271.3,-20.0 271.5,-20.0 271.8,-20.0 272.0,-20.0 272.3,-20.0 272.5,-20.0 272.8,-20.0 273.0,-20.0 273.3,-20.0 273.5,-20.0 273.8,-20.0 274.0,-20.0 274.3,-20.0 274.5,-20.0 274.8,-20.0 275.0,-20.0 275.3,-20.0 275.5,-20.0 275.8,-20.0 276.0,-20.0 276.3,-20.0 276.5,-20.0 276.8,-20.0 277.0,-20.0 277.3,-20.0 277.5,-20.0 277.8,-20.0 278.0,-20.0 278.3,-20.0 278.5,-20.0 278.7,-20.0 279.0,-20.0 279.2,-20.0 279.5,-20.0 279.7,-20.0 280.0,-20.0 280.2,-20.0 280.5,-20.0 280.7,-20.0 281.0,-20.0 281.2,-18.3 281.5,63.1 281.7,95.7 282.0,111.8 282.2,124.6 282.5,128.8 282.7,133.2 283.0,137.3 283.2,139.8 283.5,138.8 283.7,144.2 284.0,147.0 284.2,153.3 284.5,154.0 284.7,152.3 285.0,153.3 285.2,159.1 285.5,160.3 285.7,164.0 286.0,161.5 286.2,167.7 286.5,167.1 286.7,170.3 287.0,169.9 287.2,169.5 287.5,170.3 287.7,175.5 287.9,169.1 288.2,177.3 288.4,177.9 288.7,176.6 288.9,179.6 289.2,178.9 289.4,177.8 289.7,180.0 289.9,181.9 290.2,182.4 290.4,182.4 290.7,185.8 290.9,186.9 291.2,188.9 291.4,188.6 291.7,191.0 291.9,187.9 292.2,188.4 292.4,187.2 292.7,189.5 292.9,189.7 293.2,189.7 293.4,188.3 293.7,191.9 293.9,188.6 294.2,190.0 294.4,187.0 294.7,193.3 294.9,193.0 295.2,192.0 295.4,192.5 295.7,190.6 295.9,191.4 296.2,191.6 296.4,193.8 296.7,193.5 296.9,194.4 297.1,192.5 297.4,192.0 297.6,194.6 297.9,194.5 298.1,194.5 298.4,193.2 298.6,194.6 298.9,192.4 299.1,193.1 299.4,195.2 299.6,193.3 299.9,193.0 300.1,193.6 300.4,197.2 300.6,194.5 300.9,195.5 301.1,195.4 301.4,199.2 301.6,195.9 301.9,197.8 302.1,197.7 302.4,197.3 302.6,196.3 302.9,194.2 303.1,197.2 303.4,199.4 303.6,197.5 303.9,199.5 304.1,198.1 304.4,198.5 304.6,196.8 304.9,197.4 305.1,198.4 305.4,199.6 305.6,196.9 305.9,196.2 306.1,197.9 306.4,197.9 306.6,198.8 306.8,200.4 307.1,197.2 307.3,200.7 307.6,199.2 307.8,198.6 308.1,196.1 308.3,200.7 308.6,201.3 308.8,199.6 309.1,200.1 309.3,199.0 309.6,196.9 309.8,197.8 310.1,197.0 310.3,197.3 310.6,197.3 310.8,197.4 311.1,199.2 311.3,200.4 311.6,198.4 311.8,199.5 312.1,198.4 312.3,198.8 312.6,199.4 312.8,198.1 313.1,199.3 313.3,198.3 313.6,197.5 313.8,198.1 314.1,201.3 314.3,200.1 314.6,199.5 314.8,200.6 315.1,199.6 315.3,199.5 315.6,199.7 315.8,198.0 316.0,199.8 316.3,200.7 316.5,200.3 316.8,200.0 317.0,201.2 317.3,198.6 317.5,201.0 317.8,200.7 318.0,200.2 318.3,201.8 318.5,199.3 318.8,200.7 319.0,200.3 319.3,199.7 319.5,200.2 319.8,201.3 320.0,201.5 320.3,201.7 320.5,200.2 320.8,200.7 321.0,200.5 321.3,200.0 321.5,201.0 321.8,198.1 322.0,199.1 322.3,200.0 322.5,200.3 322.8,201.5 323.0,199.8 323.3,202.9 323.5,199.3 323.8,203.6 324.0,200.1 324.3,199.8 324.5,200.2 324.8,200.4 325.0,200.7" fill="none" stroke="#000" stroke-width="1.7" stroke-linejoin="round" />
<polyline points="26.6,203.7 26.8,205.4 27.1,204.3 27.3,203.9 27.6,202.1 27.8,203.0 28.1,204.7 28.3,204.0 28.6,205.3 28.8,202.4 29.1,204.0 29.3,202.8 29.6,200.0 29.8,201.7 30.1,204.0 30.3,203.1 30.6,202.9 30.8,205.3 31.1,203.4 31.3,204.0 31.6,204.0 31.8,203.0 32.1,204.2 32.3,202.0 32.6,201.7 32.8,204.8 33.1,205.3 33.3,204.5 33.6,202.5 33.8,202.8 34.1,202.3 34.3,202.3 34.6,203.4 34.8,202.2 35.1,204.6 35.3,200.7 35.6,202.3 35.8,201.8 36.0,202.1 36.3,206.3 36.5,205.6 36.8,204.7 37.0,204.2 37.3,204.3 37.5,203.1 37.8,199.2 38.0,200.5 38.3,203.9 38.5,199.8 38.8,204.4 39.0,203.7 39.3,202.7 39.5,202.6 39.8,202.9 40.0,201.1 40.3,204.5 40.5,201.7 40.8,200.5 41.0,203.9 41.3,201.4 41.5,201.5 41.8,202.2 42.0,203.1 42.3,200.1 42.5,200.3 42.8,198.2 43.0,199.8 43.3,202.1 43.5,198.7 43.8,198.0 44.0,196.2 44.3,196.3 44.5,196.1 44.8,197.6 45.0,197.8 45.3,194.1 45.5,197.7 45.7,199.0 46.0,198.1 46.2,195.4 46.5,196.4 46.7,193.7 47.0,192.4 47.2,191.2 47.5,190.6 47.7,191.7 48.0,193.0 48.2,188.4 48.5,187.0 48.7,190.9 49.0,185.8 49.2,189.1 49.5,184.8 49.7,180.4 50.0,182.3 50.2,180.5 50.5,174.0 50.7,174.9 51.0,175.8 51.2,169.2 51.5,171.0 51.7,169.0 52.0,170.7 52.2,168.0 52.5,163.3 52.7,159.0 53.0,158.9 53.2,157.8 53.5,155.9 53.7,153.8 54.0,151.2 54.2,155.0 54.5,150.3 54.7,148.5 54.9,148.4 55.2,146.3 55.4,143.9 55.7,143.9 55.9,137.9 56.2,138.6 56.4,138.4 56.7,133.4 56.9,133.4 57.2,133.2 57.4,130.2 57.7,127.3 57.9,122.6 58.2,121.4 58.4,121.5 58.7,119.3 58.9,118.9 59.2,118.3 59.4,116.6 59.7,123.2 59.9,121.1 60.2,128.8 60.4,132.7 60.7,130.7 60.9,131.9 61.2,131.1 61.4,133.4 61.7,136.1 61.9,141.5 62.2,141.2 62.4,140.1 62.7,146.8 62.9,145.2 63.2,149.5 63.4,148.4 63.7,147.9 63.9,150.0 64.1,154.5 64.4,153.4 64.6,158.6 64.9,156.9 65.1,164.0 65.4,160.1 65.6,162.3 65.9,167.6 66.1,170.9 66.4,169.3 66.6,172.4 66.9,171.4 67.1,173.1 67.4,176.3 67.6,181.8 67.9,179.8 68.1,179.7 68.4,180.1 68.6,185.0 68.9,187.5 69.1,187.8 69.4,190.2 69.6,189.9 69.9,194.2 70.1,194.4 70.4,192.3 70.6,194.2 70.9,197.6 71.1,196.7 71.4,194.4 71.6,197.8 71.9,198.6 72.1,195.7 72.4,200.8 72.6,202.3 72.9,199.8 73.1,199.9 73.3,201.0 73.6,201.2 73.8,202.1 74.1,203.0 74.3,200.5 74.6,202.7 74.8,206.2 75.1,203.6 75.3,204.3 75.6,205.2 75.8,203.5 76.1,203.0 76.3,208.2 76.6,205.2 76.8,203.8 77.1,206.6 77.3,205.6 77.6,205.3 77.8,206.2 78.1,205.5 78.3,206.6 78.6,209.3 78.8,208.3 79.1,208.4 79.3,210.6 79.6,209.9 79.8,207.9 80.1,206.2 80.3,207.8 80.6,209.8 80.8,206.7 81.1,210.9 81.3,207.9 81.6,206.8 81.8,207.6 82.1,210.4 82.3,208.2 82.6,209.9 82.8,210.6 83.0,208.9 83.3,211.4 83.5,211.5 83.8,210.1 84.0,206.4 84.3,208.8 84.5,209.4 84.8,209.2 85.0,210.4 85.3,208.5 85.5,208.2 85.8,205.5 86.0,206.5 86.3,209.4 86.5,206.2 86.8,207.3 87.0,205.0 87.3,206.8 87.5,205.4 87.8,207.6 88.0,206.7 88.3,207.3 88.5,204.6 88.8,206.1 89.0,207.0 89.3,201.3 89.5,204.6 89.8,204.6 90.0,205.2 90.3,203.4 90.5,200.8 90.8,193.3 91.0,159.4 91.3,-20.0 91.5,156.7 91.8,189.2 92.0,197.1 92.2,199.0 92.5,202.5 92.7,199.0 93.0,200.5 93.2,199.4 93.5,199.7 93.7,201.3 94.0,199.1 94.2,197.7 94.5,199.1 94.7,200.9 95.0,199.9 95.2,200.5 95.5,198.2 95.7,201.9 96.0,200.5 96.2,199.4 96.5,202.0 96.7,200.0 97.0,202.4 97.2,204.1 97.5,201.0 97.7,200.8 98.0,203.8 98.2,203.0 98.5,203.9 98.7,200.7 99.0,202.5 99.2,206.5 99.5,203.0 99.7,203.8 100.0,204.5 100.2,204.8 100.5,204.4 100.7,200.9 101.0,205.5 101.2,203.1 101.4,206.1 101.7,206.3 101.9,202.5 102.2,204.1 102.4,206.1 102.7,206.2 102.9,204.6 103.2,202.2 103.4,203.2 103.7,201.0 103.9,204.3 104.2,202.1 104.4,203.8 104.7,198.6 104.9,201.2 105.2,201.4 105.4,201.3 105.7,200.1 105.9,202.4 106.2,200.2 106.4,204.4 106.7,200.8 106.9,200.6 107.2,200.4 107.4,201.6 107.7,200.8 107.9,198.7 108.2,195.7 108.4,199.3 108.7,198.1 108.9,199.7 109.2,198.3 109.4,200.0 109.7,198.3 109.9,200.7 110.2,199.9 110.4,201.3 110.6,199.9 110.9,201.4 111.1,199.8 111.4,199.7 111.6,199.2 111.9,198.7 112.1,201.2 112.4,201.1 112.6,204.0 112.9,202.9 113.1,205.3 113.4,205.6 113.6,203.3 113.9,201.7 114.1,202.9 114.4,205.1 114.6,204.1 114.9,206.3 115.1,204.4 115.4,205.5 115.6,207.0 115.9,206.8 116.1,207.2 116.4,207.0 116.6,207.7 116.9,206.9 117.1,208.4 117.4,206.5 117.6,211.1 117.9,208.2 118.1,207.4 118.4,206.7 118.6,208.4 118.9,210.2 119.1,209.2 119.4,211.4 119.6,209.4 119.9,208.6 120.1,209.4 120.3,209.5 120.6,209.9 120.8,208.6 121.1,210.1 121.3,208.1 121.6,211.1 121.8,211.1 122.1,211.0 122.3,210.3 122.6,211.4 122.8,211.8 123.1,209.2 123.3,212.8 123.6,212.1 123.8,213.1 124.1,214.9 124.3,211.5 124.6,212.0 124.8,212.2 125.1,213.7 125.3,212.7 125.6,213.1 125.8,216.6 126.1,214.0 126.3,214.9 126.6,215.1 126.8,215.4 127.1,211.1 127.3,213.5 127.6,213.8 127.8,214.3 128.1,212.2 128.3,212.8 128.6,213.9 128.8,214.0 129.1,214.0 129.3,214.1 129.5,215.0 129.8,214.5 130.0,215.4 130.3,214.4 130.5,213.7 130.8,214.5 131.0,214.8 131.3,216.9 131.5,214.7 131.8,212.0 132.0,217.8 132.3,215.9 132.5,215.2 132.8,215.1 133.0,214.7 133.3,217.1 133.5,213.3 133.8,216.7 134.0,216.9 134.3,219.1 134.5,215.7 134.8,217.9 135.0,216.7 135.3,214.3 135.5,214.2 135.8,217.4 136.0,213.7 136.3,215.0 136.5,217.3 136.8,213.7 137.0,215.6 137.3,217.4 137.5,217.9 137.8,216.8 138.0,214.7 138.3,218.3 138.5,216.7 138.7,215.9 139.0,213.9 139.2,212.1 139.5,215.5 139.7,214.3 140.0,212.7 140.2,216.2 140.5,215.2 140.7,214.4 141.0,214.7 141.2,216.0 141.5,215.7 141.7,214.3 142.0,216.8 142.2,215.6 142.5,214.8 142.7,216.4 143.0,216.6 143.2,217.9 143.5,216.9 143.7,213.0 144.0,214.5 144.2,216.8 144.5,216.7 144.7,215.6 145.0,216.9 145.2,219.8 145.5,214.4 145.7,219.2 146.0,218.3 146.2,215.8 146.5,215.6 146.7,216.1 147.0,216.1 147.2,216.8 147.5,217.9 147.7,215.1 147.9,216.6 148.2,217.0 148.4,215.5 148.7,215.7 148.9,217.9 149.2,213.3 149.4,216.4 149.7,215.3 149.9,214.6 150.2,215.6 150.4,216.7 150.7,217.6 150.9,215.3 151.2,217.4 151.4,218.7 151.7,217.7 151.9,217.8 152.2,217.1 152.4,217.9 152.7,215.9 152.9,218.9 153.2,217.7 153.4,220.0 153.7,219.0 153.9,216.5 154.2,218.8 154.4,219.0 154.7,218.7 154.9,216.8 155.2,216.3 155.4,218.4 155.7,215.6 155.9,217.8 156.2,216.8 156.4,215.8 156.7,216.5 156.9,216.5 157.2,218.1 157.4,216.4 157.6,217.2 157.9,216.8 158.1,217.2 158.4,217.7 158.6,214.4 158.9,217.4 159.1,215.9 159.4,216.3 159.6,216.7 159.9,218.9 160.1,218.9 160.4,216.1 160.6,216.2 160.9,218.6 161.1,217.4 161.4,219.1 161.6,215.5 161.9,218.1 162.1,215.7 162.4,212.2 162.6,216.9 162.9,214.3 163.1,216.4 163.4,215.0 163.6,217.3 163.9,213.6 164.1,213.7 164.4,218.2 164.6,217.4 164.9,216.2 165.1,213.3 165.4,216.6 165.6,218.6 165.9,214.2 166.1,214.2 166.4,213.7 166.6,215.6 166.8,215.4 167.1,213.0 167.3,214.3 167.6,216.7 167.8,213.7 168.1,215.5 168.3,216.4 168.6,215.8 168.8,212.6 169.1,215.4 169.3,212.8 169.6,211.5 169.8,214.3 170.1,211.9 170.3,213.8 170.6,216.0 170.8,215.0 171.1,213.9 171.3,215.0 171.6,213.9 171.8,214.7 172.1,214.6 172.3,211.5 172.6,215.3 172.8,212.7 173.1,212.6 173.3,212.4 173.6,211.6 173.8,211.2 174.1,211.7 174.3,210.2 174.6,211.4 174.8,211.6 175.1,209.3 175.3,209.9 175.6,211.4 175.8,209.7 176.0,210.4 176.3,209.1 176.5,208.5 176.8,207.6 177.0,207.7 177.3,208.8 177.5,204.6 177.8,206.1 178.0,206.4 178.3,205.7 178.5,205.6 178.8,207.8 179.0,207.4 179.3,204.4 179.5,202.6 179.8,205.1 180.0,205.1 180.3,202.2 180.5,203.5 180.8,204.0 181.0,204.1 181.3,202.0 181.5,203.6 181.8,202.5 182.0,203.7 182.3,202.0 182.5,201.9 182.8,200.5 183.0,199.9 183.3,200.6 183.5,202.0 183.8,200.0 184.0,201.4 184.3,205.1 184.5,200.7 184.8,199.5 185.0,199.7 185.2,201.0 185.5,201.7 185.7,198.5 186.0,198.9 186.2,203.2 186.5,200.5 186.7,203.7 187.0,204.8 187.2,198.8 187.5,204.5 187.7,204.2 188.0,203.5 188.2,205.0 188.5,204.3 188.7,205.0 189.0,206.7 189.2,204.8 189.5,202.6 189.7,206.5 190.0,206.7 190.2,207.6 190.5,206.8 190.7,207.9 191.0,209.9 191.2,207.5 191.5,206.4 191.7,209.5 192.0,207.1 192.2,209.2 192.5,206.9 192.7,207.4 193.0,209.1 193.2,208.9 193.5,207.3 193.7,210.2 194.0,207.5 194.2,208.7 194.5,206.2 194.7,206.9 194.9,206.7 195.2,208.9 195.4,208.7 195.7,208.6 195.9,208.5 196.2,210.0 196.4,210.5 196.7,208.3 196.9,209.4 197.2,210.2 197.4,210.8 197.7,210.7 197.9,209.2 198.2,209.3 198.4,210.0 198.7,210.4 198.9,208.3 199.2,208.9 199.4,209.6 199.7,210.6 199.9,209.9 200.2,210.4 200.4,210.0 200.7,212.0 200.9,208.9 201.2,211.8 201.4,211.0 201.7,212.2 201.9,212.6 202.2,208.3 202.4,214.4 202.7,213.7 202.9,215.1 203.2,214.0 203.4,214.1 203.7,213.6 203.9,214.9 204.1,210.9 204.4,212.8 204.6,211.9 204.9,214.7 205.1,214.0 205.4,216.1 205.6,214.5 205.9,213.9 206.1,214.1 206.4,213.3 206.6,211.8 206.9,214.5 207.1,214.1 207.4,214.0 207.6,213.0 207.9,214.8 208.1,212.9 208.4,215.0 208.6,214.2 208.9,214.2 209.1,212.6 209.4,215.2 209.6,216.4 209.9,214.9 210.1,214.3 210.4,215.8 210.6,216.2 210.9,214.5 211.1,218.6 211.4,216.7 211.6,217.0 211.9,215.6 212.1,215.9 212.4,214.0 212.6,215.1 212.9,215.2 213.1,216.0 213.3,214.5 213.6,213.5 213.8,216.5 214.1,215.2 214.3,216.8 214.6,216.0 214.8,215.1 215.1,216.4 215.3,212.9 215.6,217.7 215.8,216.7 216.1,217.2 216.3,215.4 216.6,218.1 216.8,217.3 217.1,213.0 217.3,213.1 217.6,216.2 217.8,213.9 218.1,215.3 218.3,215.0 218.6,214.5 218.8,216.8 219.1,215.6 219.3,215.7 219.6,215.1 219.8,218.7 220.1,216.8 220.3,214.2 220.6,215.2 220.8,213.8 221.1,214.9 221.3,215.1 221.6,213.1 221.8,212.2 222.1,213.4 222.3,215.3 222.5,210.4 222.8,215.2 223.0,211.8 223.3,213.5 223.5,213.6 223.8,215.5 224.0,214.3 224.3,212.6 224.5,212.7 224.8,213.7 225.0,214.8 225.3,213.3 225.5,212.5 225.8,212.0 226.0,214.8 226.3,211.5 226.5,211.8 226.8,212.7 227.0,214.2 227.3,209.9 227.5,213.2 227.8,213.0 228.0,211.4 228.3,208.5 228.5,209.5 228.8,210.3 229.0,210.9 229.3,208.8 229.5,210.4 229.8,211.5 230.0,209.8 230.3,209.8 230.5,209.2 230.8,207.9 231.0,209.3 231.3,209.6 231.5,211.0 231.8,208.8 232.0,207.9 232.2,209.0 232.5,208.5 232.7,210.3 233.0,208.4 233.2,207.3 233.5,209.9 233.7,208.9 234.0,209.0 234.2,209.5 234.5,210.7 234.7,207.5 235.0,209.9 235.2,209.0 235.5,208.6 235.7,207.9 236.0,206.8 236.2,207.6 236.5,206.9 236.7,207.5 237.0,208.8 237.2,205.1 237.5,209.2 237.7,207.6 238.0,204.5 238.2,206.2 238.5,206.0 238.7,207.3 239.0,204.0 239.2,207.7 239.5,203.7 239.7,204.2 240.0,204.0 240.2,203.4 240.5,203.4 240.7,204.1 241.0,204.2 241.2,203.7 241.4,203.1 241.7,200.3 241.9,203.4 242.2,206.2 242.4,205.8 242.7,204.7 242.9,201.9 243.2,203.1 243.4,201.6 243.7,201.7 243.9,202.3 244.2,203.3 244.4,200.7 244.7,200.1 244.9,200.8 245.2,198.3 245.4,201.7 245.7,202.0 245.9,202.1 246.2,201.4 246.4,198.6 246.7,199.1 246.9,197.8 247.2,199.3 247.4,202.1 247.7,197.0 247.9,199.6 248.2,199.8 248.4,195.7 248.7,199.7 248.9,195.0 249.2,195.6 249.4,196.2 249.7,197.1 249.9,196.9 250.2,195.2 250.4,193.5 250.6,190.1 250.9,192.7 251.1,194.8 251.4,190.9 251.6,192.8 251.9,192.8 252.1,191.3 252.4,188.7 252.6,188.1 252.9,187.8 253.1,184.4 253.4,188.9 253.6,184.2 253.9,184.4 254.1,182.9 254.4,182.6 254.6,182.6 254.9,182.6 255.1,179.5 255.4,181.1 255.6,176.5 255.9,177.4 256.1,176.2 256.4,174.5 256.6,174.7 256.9,169.9 257.1,172.8 257.4,170.3 257.6,166.9 257.9,163.7 258.1,163.5 258.4,157.9 258.6,160.1 258.9,158.3 259.1,159.7 259.4,152.1 259.6,152.9 259.8,148.4 260.1,140.8 260.3,138.5 260.6,136.3 260.8,135.9 261.1,130.9 261.3,118.6 261.6,103.0 261.8,63.7 262.1,-20.0 262.3,-20.0 262.6,-20.0 262.8,-20.0 263.1,-20.0 263.3,-20.0 263.6,-20.0 263.8,-20.0 264.1,-20.0 264.3,-20.0 264.6,-20.0 264.8,-20.0 265.1,-20.0 265.3,-20.0 265.6,-20.0 265.8,-20.0 266.1,-20.0 266.3,-20.0 266.6,-20.0 266.8,-20.0 267.1,-20.0 267.3,-20.0 267.6,-20.0 267.8,-20.0 268.1,-20.0 268.3,-20.0 268.6,-20.0 268.8,-20.0 269.1,-20.0 269.3,-20.0 269.5,-20.0 269.8,-20.0 270.0,-20.0 270.3,-20.0 270.5,-20.0 270.8,-20.0 271.0,-20.0 271.3,-20.0 271.5,-20.0 271.8,-20.0 272.0,-20.0 272.3,-20.0 272.5,-20.0 272.8,-20.0 273.0,-20.0 273.3,-20.0 273.5,-20.0 273.8,-20.0 274.0,-20.0 274.3,-20.0 274.5,-20.0 274.8,-20.0 275.0,-20.0 275.3,-20.0 275.5,-20.0 275.8,-20.0 276.0,-20.0 276.3,-20.0 276.5,-20.0 276.8,-20.0 277.0,-20.0 277.3,-20.0 277.5,-20.0 277.8,-20.0 278.0,-20.0 278.3,-20.0 278.5,-20.0 278.7,-20.0 279.0,-20.0 279.2,-20.0 279.5,-20.0 279.7,-20.0 280.0,-20.0 280.2,-20.0 280.5,-20.0 280.7,-20.0 281.0,-20.0 281.2,-20.0 281.5,-20.0 281.7,-20.0 282.0,3.6 282.2,79.7 282.5,104.0 282.7,123.2 283.0,127.2 283.2,133.9 283.5,142.0 283.7,142.1 284.0,149.4 284.2,151.2 284.5,152.2 284.7,156.3 285.0,157.7 285.2,159.2 285.5,160.2 285.7,165.6 286.0,165.2 286.2,167.7 286.5,171.1 286.7,172.1 287.0,174.3 287.2,175.3 287.5,176.5 287.7,177.4 287.9,180.8 288.2,178.7 288.4,179.1 288.7,178.7 288.9,177.8 289.2,184.0 289.4,185.0 289.7,186.9 289.9,183.7 290.2,186.4 290.4,187.9 290.7,193.4 290.9,192.2 291.2,191.5 291.4,192.3 291.7,193.4 291.9,191.8 292.2,194.7 292.4,193.3 292.7,195.9 292.9,197.3 293.2,197.0 293.4,195.8 293.7,196.8 293.9,198.8 294.2,197.1 294.4,196.5 294.7,198.5 294.9,199.0 295.2,200.1 295.4,200.4 295.7,200.2 295.9,200.5 296.2,203.0 296.4,202.7 296.7,203.9 296.9,203.3 297.1,203.1 297.4,204.5 297.6,201.9 297.9,202.2 298.1,205.1 298.4,203.8 298.6,203.6 298.9,203.5 299.1,206.2 299.4,204.6 299.6,208.2 299.9,206.8 300.1,204.1 300.4,206.0 300.6,205.9 300.9,208.4 301.1,208.5 301.4,206.8 301.6,207.0 301.9,208.4 302.1,206.7 302.4,209.6 302.6,206.6 302.9,208.6 303.1,205.4 303.4,209.3 303.6,208.1 303.9,209.7 304.1,211.6 304.4,210.1 304.6,206.6 304.9,207.3 305.1,210.3 305.4,208.7 305.6,208.6 305.9,211.4 306.1,209.7 306.4,211.8 306.6,211.9 306.8,210.1 307.1,211.0 307.3,209.7 307.6,212.6 307.8,211.8 308.1,214.3 308.3,213.3 308.6,211.7 308.8,211.4 309.1,212.2 309.3,212.6 309.6,214.0 309.8,214.6 310.1,212.0 310.3,212.0 310.6,213.8 310.8,211.8 311.1,213.0 311.3,210.5 311.6,212.7 311.8,212.6 312.1,213.3 312.3,212.7 312.6,214.2 312.8,214.9 313.1,214.3 313.3,213.0 313.6,213.0 313.8,212.7 314.1,212.7 314.3,213.9 314.6,214.1 314.8,213.9 315.1,214.1 315.3,215.0 315.6,213.4 315.8,213.7 316.0,214.7 316.3,214.7 316.5,213.4 316.8,213.3 317.0,215.3 317.3,213.1 317.5,215.5 317.8,213.6 318.0,217.3 318.3,213.2 318.5,217.1 318.8,215.9 319.0,216.6 319.3,216.4 319.5,215.7 319.8,215.4 320.0,219.7 320.3,215.6 320.5,216.6 320.8,214.4 321.0,216.3 321.3,216.5 321.5,214.7 321.8,216.1 322.0,215.2 322.3,215.5 322.5,216.5 322.8,216.8 323.0,214.5 323.3,213.4 323.5,216.5 323.8,214.4 324.0,215.6 324.3,215.8 324.5,218.2 324.8,219.8 325.0,216.5" fill="none" stroke="#000" stroke-width="1.7" stroke-linejoin="round" />
</g>
<polyline points="26.6,1.8 325.0,1.8 325.0,224.0" fill="none" stroke="#6a6a6a" stroke-width="1.4" stroke-linejoin="miter"/>
<polyline points="26.6,1.2 26.6,224.0 325.6,224.0" fill="none" stroke="#2a2a2a" stroke-width="1.3" stroke-linejoin="miter"/>
<line x1="51.5" y1="224.0" x2="51.5" y2="221.6" stroke="#222" stroke-width="1"/>
<line x1="76.3" y1="224.0" x2="76.3" y2="219.5" stroke="#222" stroke-width="1"/>
<line x1="101.2" y1="224.0" x2="101.2" y2="221.6" stroke="#222" stroke-width="1"/>
<line x1="126.1" y1="224.0" x2="126.1" y2="219.5" stroke="#222" stroke-width="1"/>
<line x1="150.9" y1="224.0" x2="150.9" y2="221.6" stroke="#222" stroke-width="1"/>
<line x1="175.8" y1="224.0" x2="175.8" y2="219.5" stroke="#222" stroke-width="1"/>
<line x1="200.7" y1="224.0" x2="200.7" y2="221.6" stroke="#222" stroke-width="1"/>
<line x1="225.5" y1="224.0" x2="225.5" y2="219.5" stroke="#222" stroke-width="1"/>
<line x1="250.4" y1="224.0" x2="250.4" y2="221.6" stroke="#222" stroke-width="1"/>
<line x1="275.3" y1="224.0" x2="275.3" y2="219.5" stroke="#222" stroke-width="1"/>
<line x1="300.1" y1="224.0" x2="300.1" y2="221.6" stroke="#222" stroke-width="1"/>
<text x="26.6" y="239" font-size="12.2" text-anchor="middle">20</text>
<text x="76.3" y="239" font-size="12.2" text-anchor="middle">30</text>
<text x="126.1" y="239" font-size="12.2" text-anchor="middle">40</text>
<text x="175.8" y="239" font-size="12.2" text-anchor="middle">50</text>
<text x="225.5" y="239" font-size="12.2" text-anchor="middle">60</text>
<text x="275.3" y="239" font-size="12.2" text-anchor="middle">70</text>
<text x="325.0" y="239" font-size="12.2" text-anchor="middle">80</text>
<text x="1.2" y="14.9" font-size="14.2">(a)</text>
<text transform="translate(13.5,177.8) rotate(-90)" font-size="14.0">Intensity (arb. units)</text>
<text x="138.6" y="257.4" font-size="13.9">2<tspan font-family='"Liberation Serif", "DejaVu Serif", serif' font-size="14">&#952;</tspan> (degree)</text>
<text transform="translate(50.31,40.24) rotate(-90)" font-family='"DejaVu Sans", sans-serif' font-size="10.2" text-anchor="middle" stroke="#111" stroke-width="0.35">&#8727;</text>
<text transform="translate(49.9,33.6) rotate(-90)" font-size="12.3">(110)</text>
<text transform="translate(84.50,40.50) rotate(-90)" font-size="10.0" font-style="italic" text-anchor="middle" fill="#111">#</text>
<text transform="translate(84.6,33.6) rotate(-90)" font-size="12.3">(200)</text>
<text transform="translate(112.91,74.65) rotate(-90)" font-family='"DejaVu Sans", sans-serif' font-size="10.2" text-anchor="middle" stroke="#111" stroke-width="0.35">&#8727;</text>
<text transform="translate(114.1,69.5) rotate(-90)" font-size="12.3">(200)</text>
<text transform="translate(185.81,99.65) rotate(-90)" font-family='"DejaVu Sans", sans-serif' font-size="10.2" text-anchor="middle" stroke="#111" stroke-width="0.35">&#8727;</text>
<text transform="translate(185.5,91.9) rotate(-90)" font-size="12.3">(211)</text>
<text transform="translate(199.91,114.75) rotate(-90)" font-family='"DejaVu Sans", sans-serif' font-size="10.2" text-anchor="middle" stroke="#111" stroke-width="0.35">&#8727;</text>
<text transform="translate(200.2,106.9) rotate(-90)" font-size="12.3">(220)</text>
<text transform="translate(234.91,117.75) rotate(-90)" font-family='"DejaVu Sans", sans-serif' font-size="10.2" text-anchor="middle" stroke="#111" stroke-width="0.35">&#8727;</text>
<text transform="translate(235.1,108.1) rotate(-90)" font-size="12.3">(310)</text>
<text transform="translate(250.01,118.34) rotate(-90)" font-family='"DejaVu Sans", sans-serif' font-size="10.2" text-anchor="middle" stroke="#111" stroke-width="0.35">&#8727;</text>
<text transform="translate(250.1,110.5) rotate(-90)" font-size="12.3">(112)</text>
<text transform="translate(256.50,42.30) rotate(-90)" font-size="10.0" font-style="italic" text-anchor="middle" fill="#111">#</text>
<text transform="translate(256.0,33.6) rotate(-90)" font-size="12.3">(400)</text>
<text transform="translate(319.71,129.25) rotate(-90)" font-family='"DejaVu Sans", sans-serif' font-size="10.2" text-anchor="middle" stroke="#111" stroke-width="0.35">&#8727;</text>
<text transform="translate(319.3,120.5) rotate(-90)" font-size="12.3">(321)</text>
<text x="135.7" y="129.8" font-size="12.1">pure</text>
<text x="132.7" y="157.6" font-size="12.3">R=1/1</text>
<text x="133.6" y="190" font-size="12.3">R=4/1</text>
<text x="133.6" y="212" font-size="12.3">R=6/1</text>
<text x="288.72" y="19.83" font-family='"DejaVu Sans", sans-serif' font-size="8.7" text-anchor="middle" stroke="#111" stroke-width="0.35">&#8727;</text>
<text x="296.2" y="21.8" font-size="12">SnO<tspan font-size="8.6" dy="5.3">2</tspan></text>
<text x="287.5" y="41.8" font-size="10" font-style="italic" text-anchor="middle" fill="#111">#</text>
<text x="296.7" y="41.8" font-size="12">Si</text>
<g clip-path="url(#c2)">
<polyline points="22.0,489.6 22.5,489.6 23.0,489.0 23.5,488.8 24.0,488.7 24.5,488.9 25.0,488.8 25.5,488.8 26.0,488.7 26.5,488.5 27.0,488.6 27.5,488.7 28.0,489.1 28.5,488.9 29.0,488.7 29.5,488.3 30.0,488.0 30.5,488.1 31.0,487.9 31.5,487.9 32.0,487.6 32.5,487.9 33.0,488.0 33.5,487.8 34.0,487.3 34.5,487.2 35.0,487.2 35.5,487.1 36.0,486.8 36.5,486.8 37.0,487.1 37.5,486.8 38.0,486.4 38.5,485.9 39.0,485.6 39.5,485.4 40.0,485.2 40.5,485.6 41.0,485.6 41.5,485.4 42.0,485.3 42.5,485.1 43.0,485.0 43.5,484.8 44.0,484.6 44.5,484.7 45.0,484.7 45.5,484.4 46.0,484.5 46.5,484.6 47.0,485.0 47.5,485.1 48.0,485.1 48.5,485.1 49.0,484.7 49.5,484.6 50.0,484.1 50.5,484.1 51.0,483.6 51.5,483.9 52.0,484.1 52.5,484.3 53.0,484.3 53.5,483.9 54.0,483.8 54.5,483.4 55.0,483.2 55.5,483.1 56.0,483.2 56.5,483.1 57.0,483.0 57.5,482.5 58.0,482.7 58.5,482.5 59.0,482.5 59.5,482.1 60.0,481.9 60.5,481.4 61.0,481.3 61.5,480.9 62.0,481.0 62.5,480.7 63.0,480.6 63.5,480.4 64.0,480.3 64.5,480.2 65.0,479.9 65.5,479.1 66.0,478.8 66.5,478.7 67.0,478.9 67.5,478.7 68.0,478.6 68.5,478.4 69.0,478.4 69.5,478.2 70.0,478.0 70.5,477.8 71.0,477.8 71.5,477.8 72.0,477.4 72.5,476.9 73.0,476.6 73.5,476.7 74.0,476.5 74.5,476.0 75.0,475.5 75.5,475.3 76.0,475.1 76.5,474.8 77.0,474.4 77.5,474.0 78.0,473.9 78.5,473.5 79.0,473.3 79.5,473.0 80.0,472.8 80.5,472.3 81.0,472.1 81.5,471.6 82.0,471.5 82.5,470.8 83.0,470.4 83.5,470.1 84.0,469.9 84.5,469.9 85.0,469.6 85.5,469.1 86.0,468.7 86.5,468.4 87.0,468.4 87.5,468.3 88.0,468.0 88.5,467.4 89.0,466.9 89.5,466.5 90.0,466.2 90.5,465.8 91.0,465.2 91.5,464.6 92.0,464.3 92.5,464.1 93.0,464.0 93.5,463.5 94.0,463.1 94.5,462.5 95.0,462.2 95.5,461.7 96.0,461.3 96.5,460.7 97.0,460.3 97.5,459.5 98.0,459.2 98.5,458.5 99.0,458.3 99.5,457.6 100.0,457.1 100.5,456.5 101.0,456.3 101.5,455.6 102.0,455.1 102.5,454.4 103.0,453.7 103.5,453.6 104.0,453.0 104.5,452.4 105.0,451.7 105.5,450.9 106.0,450.6 106.5,450.0 107.0,449.4 107.5,448.7 108.0,447.9 108.5,447.3 109.0,446.5 109.5,445.8 110.0,445.1 110.5,444.9 111.0,444.5 111.5,444.1 112.0,443.4 112.5,442.6 113.0,441.6 113.5,440.5 114.0,439.8 114.5,439.0 115.0,438.6 115.5,438.1 116.0,437.5 116.5,436.6 117.0,435.5 117.5,434.8 118.0,434.2 118.5,433.7 119.0,432.8 119.5,432.3 120.0,431.6 120.5,430.9 121.0,429.7 121.5,428.7 122.0,427.9 122.5,427.1 123.0,426.4 123.5,425.6 124.0,424.9 124.5,424.1 125.0,423.1 125.5,422.1 126.0,420.9 126.5,419.9 127.0,419.2 127.5,418.2 128.0,417.7 128.5,416.4 129.0,415.5 129.5,414.4 130.0,413.4 130.5,412.4 131.0,411.2 131.5,410.1 132.0,408.9 132.5,407.8 133.0,407.0 133.5,405.8 134.0,405.0 134.5,403.1 135.0,401.9 135.5,400.4 136.0,399.5 136.5,398.4 137.0,397.2 137.5,396.0 138.0,394.7 138.5,393.9 139.0,392.9 139.5,391.9 140.0,390.5 140.5,389.5 141.0,388.4 141.5,387.6 142.0,387.2 142.5,386.7 143.0,386.1 143.5,385.2 144.0,384.5 144.5,383.8 145.0,383.2 145.5,382.4 146.0,381.6 146.5,380.8 147.0,379.5 147.5,378.7 148.0,377.7 148.5,377.2 149.0,376.5 149.5,375.7 150.0,375.0 150.5,374.7 151.0,374.2 151.5,373.6 152.0,372.8 152.5,372.0 153.0,371.5 153.5,370.8 154.0,370.5 154.5,369.5 155.0,369.0 155.5,368.3 156.0,367.8 156.5,367.3 157.0,366.7 157.5,366.6 158.0,366.1 158.5,365.9 159.0,365.3 159.5,365.1 160.0,364.4 160.5,364.1 161.0,363.6 161.5,363.6 162.0,363.4 162.5,363.4 163.0,363.0 163.5,363.1 164.0,363.3 164.5,363.2 165.0,362.8 165.5,362.5 166.0,362.6 166.5,362.9 167.0,362.6 167.5,362.3 168.0,361.9 168.5,361.9 169.0,361.7 169.5,362.0 170.0,362.0 170.5,362.5 171.0,362.7 171.5,362.8 172.0,362.5 172.5,362.4 173.0,362.9 173.5,363.1 174.0,363.2 174.5,363.2 175.0,363.6 175.5,364.1 176.0,364.7 176.5,365.0 177.0,365.6 177.5,365.6 178.0,366.1 178.5,366.5 179.0,366.8 179.5,367.3 180.0,367.6 180.5,368.5 181.0,368.9 181.5,370.0 182.0,370.7 182.5,371.7 183.0,372.2 183.5,372.6 184.0,372.8 184.5,373.3 185.0,374.3 185.5,375.4 186.0,376.3 186.5,377.1 187.0,377.6 187.5,378.3 188.0,379.3 188.5,380.3 189.0,380.8 189.5,381.4 190.0,382.3 190.5,383.7 191.0,384.6 191.5,385.8 192.0,386.4 192.5,387.8 193.0,389.0 193.5,390.6 194.0,391.2 194.5,391.9 195.0,392.1 195.5,393.2 196.0,393.9 196.5,395.0 197.0,395.7 197.5,396.5 198.0,397.5 198.5,398.1 199.0,398.8 199.5,399.1 200.0,399.5 200.5,400.0 201.0,401.0 201.5,401.7 202.0,402.6 202.5,403.0 203.0,403.6 203.5,404.1 204.0,404.9 204.5,405.7 205.0,406.3 205.5,407.3 206.0,407.9 206.5,408.9 207.0,409.5 207.5,410.6 208.0,411.1 208.5,412.0 209.0,412.7 209.5,413.9 210.0,415.1 210.5,416.2 211.0,417.1 211.5,418.0 212.0,419.4 212.5,420.5 213.0,421.8 213.5,422.7 214.0,423.9 214.5,424.8 215.0,425.9 215.5,426.9 216.0,427.6 216.5,428.3 217.0,429.1 217.5,429.5 218.0,430.1 218.5,430.7 219.0,431.9 219.5,432.9 220.0,433.5 220.5,433.9 221.0,434.0 221.5,434.5 222.0,435.2 222.5,436.1 223.0,436.5 223.5,437.1 224.0,437.6 224.5,438.7 225.0,439.3 225.5,439.8 226.0,440.0 226.5,440.6 227.0,441.2 227.5,442.1 228.0,443.0 228.5,443.8 229.0,444.5 229.5,444.9 230.0,445.5 230.5,445.9 231.0,446.5 231.5,447.3 232.0,447.9 232.5,448.2 233.0,448.6 233.5,449.1 234.0,449.7 234.5,450.1 235.0,450.9 235.5,452.0 236.0,452.5 236.5,453.1 237.0,453.5 237.5,453.9 238.0,454.3 238.5,454.6 239.0,455.3 239.5,455.5 240.0,455.9 240.5,456.6 241.0,457.5 241.5,458.3 242.0,458.5 242.5,459.1 243.0,459.3 243.5,459.6 244.0,459.9 244.5,460.2 245.0,461.0 245.5,461.3 246.0,461.9 246.5,462.3 247.0,462.7 247.5,463.1 248.0,463.5 248.5,463.9 249.0,464.4 249.5,464.7 250.0,465.0 250.5,465.1 251.0,465.4 251.5,465.8 252.0,466.5 252.5,467.0 253.0,467.4 253.5,467.3 254.0,467.7 254.5,468.3 255.0,469.0 255.5,469.3 256.0,469.5 256.5,469.5 257.0,469.9 257.5,470.1 258.0,470.4 258.5,470.9 259.0,471.4 259.5,471.9 260.0,472.2 260.5,472.2 261.0,472.4 261.5,472.6 262.0,473.2 262.5,473.6 263.0,474.1 263.5,474.2 264.0,474.1 264.5,474.4 265.0,474.9 265.5,475.2 266.0,475.3 266.5,475.5 267.0,475.8 267.5,476.3 268.0,476.3 268.5,476.5 269.0,476.7 269.5,477.0 270.0,477.3 270.5,477.4 271.0,477.3 271.5,477.9 272.0,477.8 272.5,478.4 273.0,478.2 273.5,478.6 274.0,478.9 274.5,479.0 275.0,479.3 275.5,479.3 276.0,479.5 276.5,479.5 277.0,479.6 277.5,479.8 278.0,480.1 278.5,480.4 279.0,480.9 279.5,481.0 280.0,481.1 280.5,480.8 281.0,480.9 281.5,481.3 282.0,481.8 282.5,482.0 283.0,482.3 283.5,482.2 284.0,482.4 284.5,482.5 285.0,483.3 285.5,483.7 286.0,483.8 286.5,483.7 287.0,483.9 287.5,484.4 288.0,484.4 288.5,484.4 289.0,484.4 289.5,484.7 290.0,485.2 290.5,485.7 291.0,485.6 291.5,485.4 292.0,485.2 292.5,485.4 293.0,485.7 293.5,485.9 294.0,486.1 294.5,486.3 295.0,486.4 295.5,486.3 296.0,485.9 296.5,485.9 297.0,486.0 297.5,486.1 298.0,486.5 298.5,486.8 299.0,487.1 299.5,487.0 300.0,486.8 300.5,486.8 301.0,487.3 301.5,487.3 302.0,487.6 302.5,487.5 303.0,488.0 303.5,488.0 304.0,488.1 304.5,488.0 305.0,488.2 305.5,488.4 306.0,488.5 306.5,488.4 307.0,488.3 307.5,488.7 308.0,489.1 308.5,489.2 309.0,489.1 309.5,488.8 310.0,488.8 310.5,489.0 311.0,489.1 311.5,489.1 312.0,489.2 312.5,489.5 313.0,489.4 313.5,489.5 314.0,489.2 314.5,489.4 315.0,489.3 315.5,489.8 316.0,490.4 316.5,490.5 317.0,490.4 317.5,490.1 318.0,489.9 318.5,489.9 319.0,489.6 319.5,490.1 320.0,490.3 320.5,490.6 321.0,490.3 321.5,490.3 322.0,490.3 322.5,490.5 323.0,490.4 323.5,490.1 324.0,490.2 324.5,490.2" fill="none" stroke="#000" stroke-width="1.3" stroke-linejoin="round" />
<polyline points="22.0,491.6 22.5,491.6 23.0,491.6 23.5,491.6 24.0,491.6 24.5,491.6 25.0,491.6 25.5,491.6 26.0,491.6 26.5,491.6 27.0,491.6 27.5,491.6 28.0,491.5 28.5,491.5 29.0,491.5 29.5,491.5 30.0,491.5 30.5,491.5 31.0,491.5 31.5,491.5 32.0,491.5 32.5,491.5 33.0,491.5 33.5,491.4 34.0,491.4 34.5,491.4 35.0,491.4 35.5,491.3 36.0,491.3 36.5,491.3 37.0,491.3 37.5,491.2 38.0,491.2 38.5,491.1 39.0,491.1 39.5,491.1 40.0,491.0 40.5,491.0 41.0,490.9 41.5,490.9 42.0,490.9 42.5,490.8 43.0,490.8 43.5,490.7 44.0,490.7 44.5,490.6 45.0,490.6 45.5,490.5 46.0,490.5 46.5,490.4 47.0,490.4 47.5,490.3 48.0,490.3 48.5,490.2 49.0,490.2 49.5,490.1 50.0,490.1 50.5,490.0 51.0,490.0 51.5,490.0 52.0,489.9 52.5,489.9 53.0,489.8 53.5,489.8 54.0,489.8 54.5,489.7 55.0,489.7 55.5,489.6 56.0,489.6 56.5,489.5 57.0,489.5 57.5,489.4 58.0,489.4 58.5,489.3 59.0,489.3 59.5,489.2 60.0,489.1 60.5,489.0 61.0,489.0 61.5,488.9 62.0,488.8 62.5,488.7 63.0,488.5 63.5,488.4 64.0,488.3 64.5,488.2 65.0,488.0 65.5,487.9 66.0,487.7 66.5,487.5 67.0,487.4 67.5,487.2 68.0,487.1 68.5,486.9 69.0,486.8 69.5,486.6 70.0,486.5 70.5,486.4 71.0,486.3 71.5,486.2 72.0,486.1 72.5,486.0 73.0,485.9 73.5,485.8 74.0,485.8 74.5,485.7 75.0,485.6 75.5,485.5 76.0,485.5 76.5,485.4 77.0,485.3 77.5,485.3 78.0,485.2 78.5,485.1 79.0,485.0 79.5,485.0 80.0,484.9 80.5,484.8 81.0,484.6 81.5,484.5 82.0,484.4 82.5,484.3 83.0,484.1 83.5,484.0 84.0,483.8 84.5,483.7 85.0,483.5 85.5,483.3 86.0,483.2 86.5,483.0 87.0,482.8 87.5,482.6 88.0,482.4 88.5,482.3 89.0,482.1 89.5,481.9 90.0,481.7 90.5,481.5 91.0,481.3 91.5,481.1 92.0,480.9 92.5,480.6 93.0,480.4 93.5,480.2 94.0,480.0 94.5,479.8 95.0,479.6 95.5,479.3 96.0,479.1 96.5,478.9 97.0,478.7 97.5,478.4 98.0,478.2 98.5,478.0 99.0,477.7 99.5,477.5 100.0,477.2 100.5,477.0 101.0,476.8 101.5,476.5 102.0,476.2 102.5,476.0 103.0,475.7 103.5,475.4 104.0,475.2 104.5,474.9 105.0,474.6 105.5,474.3 106.0,474.0 106.5,473.7 107.0,473.4 107.5,473.1 108.0,472.8 108.5,472.5 109.0,472.2 109.5,471.9 110.0,471.6 110.5,471.3 111.0,471.0 111.5,470.7 112.0,470.4 112.5,470.1 113.0,469.7 113.5,469.4 114.0,469.0 114.5,468.6 115.0,468.3 115.5,467.9 116.0,467.4 116.5,467.0 117.0,466.6 117.5,466.1 118.0,465.6 118.5,465.1 119.0,464.6 119.5,464.1 120.0,463.5 120.5,463.0 121.0,462.5 121.5,461.9 122.0,461.3 122.5,460.7 123.0,460.1 123.5,459.5 124.0,458.9 124.5,458.2 125.0,457.6 125.5,456.9 126.0,456.2 126.5,455.4 127.0,454.7 127.5,453.9 128.0,453.1 128.5,452.3 129.0,451.5 129.5,450.7 130.0,449.8 130.5,449.0 131.0,448.1 131.5,447.2 132.0,446.2 132.5,445.3 133.0,444.3 133.5,443.3 134.0,442.3 134.5,441.3 135.0,440.2 135.5,439.1 136.0,437.9 136.5,436.8 137.0,435.6 137.5,434.4 138.0,433.2 138.5,431.9 139.0,430.7 139.5,429.4 140.0,428.1 140.5,426.8 141.0,425.5 141.5,424.2 142.0,422.8 142.5,421.5 143.0,420.1 143.5,418.7 144.0,417.2 144.5,415.7 145.0,414.0 145.5,412.4 146.0,410.6 146.5,408.8 147.0,406.9 147.5,405.0 148.0,403.0 148.5,400.8 149.0,398.6 149.5,396.3 150.0,394.0 150.5,391.8 151.0,389.6 151.5,387.5 152.0,385.4 152.5,383.4 153.0,381.3 153.5,379.1 154.0,376.9 154.5,374.6 155.0,372.3 155.5,369.9 156.0,367.4 156.5,364.9 157.0,362.3 157.5,359.7 158.0,357.0 158.5,354.3 159.0,351.4 159.5,348.5 160.0,345.6 160.5,342.8 161.0,340.0 161.5,337.3 162.0,334.6 162.5,331.9 163.0,329.3 163.5,326.8 164.0,324.3 164.5,321.9 165.0,319.6 165.5,317.3 166.0,315.2 166.5,313.1 167.0,311.1 167.5,309.1 168.0,307.1 168.5,305.2 169.0,303.2 169.5,301.2 170.0,299.2 170.5,297.1 171.0,295.0 171.5,292.8 172.0,290.7 172.5,288.7 173.0,286.8 173.5,285.2 174.0,283.7 174.5,282.3 175.0,281.0 175.5,280.0 176.0,279.2 176.5,278.6 177.0,278.2 177.5,278.0 178.0,278.0 178.5,278.3 179.0,278.7 179.5,279.5 180.0,280.6 180.5,282.0 181.0,283.5 181.5,285.2 182.0,287.1 182.5,289.1 183.0,291.2 183.5,293.2 184.0,295.3 184.5,297.5 185.0,299.6 185.5,301.9 186.0,304.2 186.5,306.6 187.0,309.0 187.5,311.6 188.0,314.3 188.5,317.0 189.0,319.9 189.5,322.7 190.0,325.4 190.5,328.0 191.0,330.5 191.5,333.0 192.0,335.4 192.5,337.7 193.0,340.1 193.5,342.4 194.0,344.6 194.5,346.7 195.0,348.8 195.5,350.9 196.0,353.1 196.5,355.4 197.0,357.8 197.5,360.4 198.0,363.0 198.5,365.8 199.0,368.5 199.5,371.3 200.0,373.9 200.5,376.5 201.0,379.0 201.5,381.4 202.0,383.8 202.5,386.2 203.0,388.5 203.5,390.7 204.0,392.9 204.5,395.0 205.0,397.1 205.5,399.1 206.0,401.0 206.5,403.0 207.0,404.9 207.5,406.9 208.0,408.9 208.5,410.9 209.0,412.9 209.5,414.9 210.0,416.9 210.5,418.9 211.0,420.9 211.5,422.9 212.0,424.9 212.5,426.9 213.0,428.9 213.5,430.8 214.0,432.6 214.5,434.3 215.0,436.0 215.5,437.7 216.0,439.3 216.5,440.8 217.0,442.4 217.5,443.8 218.0,445.2 218.5,446.6 219.0,447.9 219.5,449.1 220.0,450.3 220.5,451.4 221.0,452.5 221.5,453.5 222.0,454.4 222.5,455.3 223.0,456.2 223.5,457.0 224.0,457.8 224.5,458.6 225.0,459.4 225.5,460.2 226.0,461.0 226.5,461.9 227.0,462.7 227.5,463.5 228.0,464.3 228.5,465.1 229.0,465.9 229.5,466.7 230.0,467.5 230.5,468.2 231.0,469.0 231.5,469.7 232.0,470.4 232.5,471.1 233.0,471.7 233.5,472.4 234.0,473.0 234.5,473.6 235.0,474.2 235.5,474.7 236.0,475.3 236.5,475.8 237.0,476.3 237.5,476.8 238.0,477.3 238.5,477.7 239.0,478.2 239.5,478.6 240.0,479.0 240.5,479.5 241.0,479.9 241.5,480.3 242.0,480.6 242.5,481.0 243.0,481.4 243.5,481.7 244.0,482.0 244.5,482.4 245.0,482.7 245.5,483.0 246.0,483.3 246.5,483.5 247.0,483.8 247.5,484.1 248.0,484.3 248.5,484.5 249.0,484.7 249.5,484.9 250.0,485.1 250.5,485.3 251.0,485.5 251.5,485.6 252.0,485.7 252.5,485.9 253.0,486.0 253.5,486.1 254.0,486.2 254.5,486.3 255.0,486.4 255.5,486.6 256.0,486.7 256.5,486.8 257.0,486.9 257.5,487.1 258.0,487.2 258.5,487.4 259.0,487.5 259.5,487.7 260.0,487.8 260.5,487.9 261.0,488.1 261.5,488.2 262.0,488.4 262.5,488.5 263.0,488.6 263.5,488.8 264.0,488.9 264.5,489.0 265.0,489.2 265.5,489.3 266.0,489.4 266.5,489.5 267.0,489.6 267.5,489.8 268.0,489.9 268.5,490.0 269.0,490.1 269.5,490.2 270.0,490.3 270.5,490.4 271.0,490.5 271.5,490.6 272.0,490.7 272.5,490.8 273.0,490.9 273.5,491.0 274.0,491.1 274.5,491.2 275.0,491.3 275.5,491.3 276.0,491.4 276.5,491.5 277.0,491.6 277.5,491.6 278.0,491.7 278.5,491.8 279.0,491.8 279.5,491.9 280.0,491.9 280.5,492.0 281.0,492.0 281.5,492.1 282.0,492.2 282.5,492.2 283.0,492.3 283.5,492.3 284.0,492.4 284.5,492.4 285.0,492.5 285.5,492.5 286.0,492.6 286.5,492.7 287.0,492.7 287.5,492.8 288.0,492.8 288.5,492.9 289.0,493.0 289.5,493.0 290.0,493.1 290.5,493.1 291.0,493.2 291.5,493.3 292.0,493.3 292.5,493.4 293.0,493.4 293.5,493.5 294.0,493.6 294.5,493.6 295.0,493.7 295.5,493.7 296.0,493.8 296.5,493.8 297.0,493.9 297.5,493.9 298.0,494.0 298.5,494.1 299.0,494.1 299.5,494.2 300.0,494.2 300.5,494.3 301.0,494.3 301.5,494.4 302.0,494.4 302.5,494.5 303.0,494.5 303.5,494.6 304.0,494.6 304.5,494.7 305.0,494.7 305.5,494.7 306.0,494.8 306.5,494.8 307.0,494.9 307.5,494.9 308.0,495.0 308.5,495.0 309.0,495.1 309.5,495.1 310.0,495.2 310.5,495.3 311.0,495.3 311.5,495.4 312.0,495.4 312.5,495.5 313.0,495.5 313.5,495.6 314.0,495.6 314.5,495.7 315.0,495.8 315.5,495.8 316.0,495.9 316.5,495.9 317.0,496.0 317.5,496.1 318.0,496.1 318.5,496.2 319.0,496.2 319.5,496.3 320.0,496.3 320.5,496.4 321.0,496.5 321.5,496.5 322.0,496.6 322.5,496.6 323.0,496.7 323.5,496.8 324.0,496.8 324.5,496.9" fill="none" stroke="#000" stroke-width="1.35" stroke-linejoin="round" stroke-dasharray="3.9 2.3"/>
<polyline points="22.0,490.9 22.5,490.9 23.0,490.8 23.5,490.8 24.0,490.8 24.5,490.8 25.0,490.7 25.5,490.7 26.0,490.7 26.5,490.7 27.0,490.6 27.5,490.6 28.0,490.6 28.5,490.6 29.0,490.5 29.5,490.5 30.0,490.4 30.5,490.4 31.0,490.3 31.5,490.3 32.0,490.2 32.5,490.1 33.0,490.0 33.5,489.9 34.0,489.8 34.5,489.7 35.0,489.6 35.5,489.5 36.0,489.4 36.5,489.3 37.0,489.1 37.5,489.0 38.0,488.9 38.5,488.7 39.0,488.6 39.5,488.4 40.0,488.3 40.5,488.2 41.0,488.0 41.5,487.9 42.0,487.8 42.5,487.7 43.0,487.5 43.5,487.4 44.0,487.3 44.5,487.2 45.0,487.1 45.5,487.0 46.0,486.9 46.5,486.8 47.0,486.7 47.5,486.6 48.0,486.5 48.5,486.4 49.0,486.3 49.5,486.2 50.0,486.1 50.5,486.0 51.0,485.9 51.5,485.9 52.0,485.8 52.5,485.7 53.0,485.6 53.5,485.5 54.0,485.4 54.5,485.2 55.0,485.1 55.5,485.0 56.0,484.9 56.5,484.8 57.0,484.7 57.5,484.5 58.0,484.4 58.5,484.3 59.0,484.1 59.5,484.0 60.0,483.8 60.5,483.7 61.0,483.5 61.5,483.4 62.0,483.3 62.5,483.1 63.0,483.0 63.5,482.8 64.0,482.7 64.5,482.5 65.0,482.4 65.5,482.2 66.0,482.1 66.5,481.9 67.0,481.8 67.5,481.6 68.0,481.5 68.5,481.4 69.0,481.2 69.5,481.1 70.0,481.0 70.5,480.8 71.0,480.7 71.5,480.6 72.0,480.4 72.5,480.3 73.0,480.2 73.5,480.0 74.0,479.9 74.5,479.8 75.0,479.6 75.5,479.5 76.0,479.4 76.5,479.2 77.0,479.1 77.5,479.0 78.0,478.8 78.5,478.7 79.0,478.5 79.5,478.4 80.0,478.3 80.5,478.1 81.0,478.0 81.5,477.8 82.0,477.7 82.5,477.6 83.0,477.4 83.5,477.3 84.0,477.1 84.5,477.0 85.0,476.9 85.5,476.7 86.0,476.6 86.5,476.4 87.0,476.3 87.5,476.2 88.0,476.0 88.5,475.9 89.0,475.7 89.5,475.6 90.0,475.4 90.5,475.3 91.0,475.1 91.5,474.9 92.0,474.8 92.5,474.6 93.0,474.4 93.5,474.2 94.0,474.0 94.5,473.8 95.0,473.6 95.5,473.4 96.0,473.2 96.5,473.0 97.0,472.7 97.5,472.5 98.0,472.3 98.5,472.1 99.0,471.8 99.5,471.6 100.0,471.4 100.5,471.1 101.0,470.9 101.5,470.6 102.0,470.4 102.5,470.1 103.0,469.8 103.5,469.5 104.0,469.2 104.5,468.9 105.0,468.6 105.5,468.3 106.0,468.0 106.5,467.7 107.0,467.3 107.5,467.0 108.0,466.7 108.5,466.3 109.0,466.0 109.5,465.6 110.0,465.3 110.5,464.9 111.0,464.5 111.5,464.2 112.0,463.8 112.5,463.4 113.0,463.0 113.5,462.6 114.0,462.2 114.5,461.7 115.0,461.3 115.5,460.8 116.0,460.4 116.5,459.9 117.0,459.4 117.5,458.9 118.0,458.4 118.5,457.9 119.0,457.3 119.5,456.8 120.0,456.2 120.5,455.7 121.0,455.1 121.5,454.5 122.0,453.9 122.5,453.3 123.0,452.7 123.5,452.1 124.0,451.5 124.5,450.8 125.0,450.1 125.5,449.5 126.0,448.8 126.5,448.1 127.0,447.4 127.5,446.7 128.0,446.0 128.5,445.2 129.0,444.5 129.5,443.8 130.0,443.0 130.5,442.3 131.0,441.5 131.5,440.7 132.0,439.9 132.5,439.1 133.0,438.2 133.5,437.4 134.0,436.5 134.5,435.6 135.0,434.6 135.5,433.7 136.0,432.7 136.5,431.8 137.0,430.8 137.5,429.8 138.0,428.7 138.5,427.6 139.0,426.5 139.5,425.3 140.0,424.0 140.5,422.6 141.0,421.2 141.5,419.7 142.0,418.2 142.5,416.6 143.0,415.1 143.5,413.6 144.0,412.2 144.5,410.8 145.0,409.3 145.5,407.8 146.0,406.2 146.5,404.6 147.0,402.7 147.5,400.8 148.0,398.8 148.5,396.7 149.0,394.6 149.5,392.5 150.0,390.5 150.5,388.5 151.0,386.5 151.5,384.6 152.0,382.6 152.5,380.6 153.0,378.6 153.5,376.4 154.0,374.2 154.5,372.0 155.0,369.7 155.5,367.4 156.0,365.1 156.5,362.7 157.0,360.2 157.5,357.7 158.0,355.1 158.5,352.4 159.0,349.7 159.5,347.0 160.0,344.3 160.5,341.6 161.0,338.9 161.5,336.3 162.0,333.6 162.5,330.9 163.0,328.3 163.5,325.8 164.0,323.3 164.5,321.0 165.0,318.7 165.5,316.6 166.0,314.6 166.5,312.6 167.0,310.7 167.5,308.8 168.0,306.9 168.5,305.0 169.0,303.1 169.5,301.2 170.0,299.2 170.5,297.1 171.0,295.0 171.5,292.8 172.0,290.7 172.5,288.6 173.0,286.8 173.5,285.1 174.0,283.7 174.5,282.4 175.0,281.3 175.5,280.3 176.0,279.5 176.5,278.9 177.0,278.4 177.5,278.2 178.0,278.0 178.5,278.0 179.0,278.1 179.5,278.4 180.0,278.9 180.5,279.4 181.0,280.0 181.5,280.7 182.0,281.6 182.5,282.5 183.0,283.5 183.5,284.5 184.0,285.5 184.5,286.5 185.0,287.5 185.5,288.6 186.0,289.8 186.5,291.1 187.0,292.6 187.5,294.4 188.0,296.3 188.5,298.3 189.0,300.5 189.5,302.6 190.0,304.8 190.5,307.0 191.0,309.2 191.5,311.3 192.0,313.5 192.5,315.8 193.0,318.1 193.5,320.4 194.0,322.8 194.5,325.3 195.0,327.8 195.5,330.4 196.0,333.0 196.5,335.7 197.0,338.5 197.5,341.3 198.0,344.3 198.5,347.4 199.0,350.6 199.5,353.8 200.0,356.9 200.5,359.7 201.0,362.4 201.5,364.8 202.0,367.1 202.5,369.3 203.0,371.5 203.5,373.7 204.0,376.0 204.5,378.3 205.0,380.7 205.5,383.0 206.0,385.4 206.5,387.7 207.0,390.1 207.5,392.4 208.0,394.8 208.5,397.2 209.0,399.6 209.5,401.9 210.0,404.3 210.5,406.6 211.0,408.8 211.5,411.0 212.0,412.9 212.5,414.9 213.0,417.1 213.5,419.5 214.0,422.4 214.5,425.4 215.0,428.4 215.5,431.1 216.0,433.4 216.5,435.3 217.0,436.9 217.5,438.3 218.0,439.5 218.5,440.6 219.0,441.5 219.5,442.3 220.0,443.1 220.5,443.9 221.0,444.8 221.5,445.8 222.0,446.8 222.5,447.9 223.0,448.9 223.5,449.9 224.0,450.9 224.5,451.8 225.0,452.7 225.5,453.6 226.0,454.5 226.5,455.4 227.0,456.3 227.5,457.1 228.0,457.9 228.5,458.7 229.0,459.5 229.5,460.3 230.0,461.0 230.5,461.8 231.0,462.5 231.5,463.2 232.0,463.9 232.5,464.6 233.0,465.2 233.5,465.9 234.0,466.5 234.5,467.1 235.0,467.7 235.5,468.3 236.0,468.9 236.5,469.5 237.0,470.0 237.5,470.6 238.0,471.1 238.5,471.7 239.0,472.2 239.5,472.7 240.0,473.2 240.5,473.6 241.0,474.1 241.5,474.6 242.0,475.0 242.5,475.4 243.0,475.8 243.5,476.2 244.0,476.6 244.5,477.0 245.0,477.3 245.5,477.6 246.0,478.0 246.5,478.2 247.0,478.5 247.5,478.8 248.0,479.1 248.5,479.3 249.0,479.6 249.5,479.8 250.0,480.1 250.5,480.3 251.0,480.5 251.5,480.8 252.0,481.0 252.5,481.3 253.0,481.6 253.5,481.8 254.0,482.1 254.5,482.3 255.0,482.6 255.5,482.8 256.0,483.1 256.5,483.4 257.0,483.6 257.5,483.8 258.0,484.1 258.5,484.3 259.0,484.6 259.5,484.8 260.0,485.1 260.5,485.3 261.0,485.5 261.5,485.8 262.0,486.0 262.5,486.2 263.0,486.4 263.5,486.6 264.0,486.8 264.5,487.0 265.0,487.2 265.5,487.4 266.0,487.6 266.5,487.7 267.0,487.9 267.5,488.1 268.0,488.2 268.5,488.3 269.0,488.5 269.5,488.6 270.0,488.7 270.5,488.9 271.0,489.0 271.5,489.1 272.0,489.2 272.5,489.4 273.0,489.5 273.5,489.6 274.0,489.7 274.5,489.8 275.0,489.9 275.5,490.0 276.0,490.1 276.5,490.2 277.0,490.3 277.5,490.4 278.0,490.5 278.5,490.5 279.0,490.6 279.5,490.7 280.0,490.8 280.5,490.8 281.0,490.9 281.5,491.0 282.0,491.0 282.5,491.1 283.0,491.2 283.5,491.2 284.0,491.3 284.5,491.4 285.0,491.5 285.5,491.5 286.0,491.6 286.5,491.7 287.0,491.8 287.5,491.8 288.0,491.9 288.5,492.0 289.0,492.1 289.5,492.1 290.0,492.2 290.5,492.3 291.0,492.3 291.5,492.4 292.0,492.5 292.5,492.6 293.0,492.6 293.5,492.7 294.0,492.8 294.5,492.8 295.0,492.9 295.5,493.0 296.0,493.0 296.5,493.1 297.0,493.2 297.5,493.2 298.0,493.3 298.5,493.4 299.0,493.4 299.5,493.5 300.0,493.5 300.5,493.6 301.0,493.6 301.5,493.7 302.0,493.7 302.5,493.8 303.0,493.8 303.5,493.9 304.0,493.9 304.5,494.0 305.0,494.0 305.5,494.0 306.0,494.1 306.5,494.1 307.0,494.2 307.5,494.2 308.0,494.3 308.5,494.3 309.0,494.4 309.5,494.4 310.0,494.5 310.5,494.6 311.0,494.6 311.5,494.7 312.0,494.7 312.5,494.8 313.0,494.9 313.5,494.9 314.0,495.0 314.5,495.0 315.0,495.1 315.5,495.2 316.0,495.2 316.5,495.3 317.0,495.4 317.5,495.4 318.0,495.5 318.5,495.6 319.0,495.6 319.5,495.7 320.0,495.8 320.5,495.8 321.0,495.9 321.5,496.0 322.0,496.0 322.5,496.1 323.0,496.2 323.5,496.2 324.0,496.3 324.5,496.4" fill="none" stroke="#000" stroke-width="1.35" stroke-linejoin="round" stroke-dasharray="6.3 2.7 1.6 2.9"/>
</g>
<rect x="22.1" y="273.6" width="302.6" height="224.4" fill="none" stroke="#1c1c1c" stroke-width="1.35"/>
<line x1="43.7" y1="498.0" x2="43.7" y2="495.5" stroke="#222" stroke-width="1"/>
<line x1="65.3" y1="498.0" x2="65.3" y2="493.4" stroke="#222" stroke-width="1"/>
<line x1="86.9" y1="498.0" x2="86.9" y2="495.5" stroke="#222" stroke-width="1"/>
<line x1="108.5" y1="498.0" x2="108.5" y2="493.4" stroke="#222" stroke-width="1"/>
<line x1="130.1" y1="498.0" x2="130.1" y2="495.5" stroke="#222" stroke-width="1"/>
<line x1="151.7" y1="498.0" x2="151.7" y2="493.4" stroke="#222" stroke-width="1"/>
<line x1="173.3" y1="498.0" x2="173.3" y2="495.5" stroke="#222" stroke-width="1"/>
<line x1="195.0" y1="498.0" x2="195.0" y2="493.4" stroke="#222" stroke-width="1"/>
<line x1="216.6" y1="498.0" x2="216.6" y2="495.5" stroke="#222" stroke-width="1"/>
<line x1="238.2" y1="498.0" x2="238.2" y2="493.4" stroke="#222" stroke-width="1"/>
<line x1="259.8" y1="498.0" x2="259.8" y2="495.5" stroke="#222" stroke-width="1"/>
<line x1="281.4" y1="498.0" x2="281.4" y2="493.4" stroke="#222" stroke-width="1"/>
<line x1="303.0" y1="498.0" x2="303.0" y2="495.5" stroke="#222" stroke-width="1"/>
<text x="22.1" y="513.1" font-size="12.8" text-anchor="middle">23</text>
<text x="65.3" y="513.1" font-size="12.8" text-anchor="middle">24</text>
<text x="108.5" y="513.1" font-size="12.8" text-anchor="middle">25</text>
<text x="151.7" y="513.1" font-size="12.8" text-anchor="middle">26</text>
<text x="195.0" y="513.1" font-size="12.8" text-anchor="middle">27</text>
<text x="238.2" y="513.1" font-size="12.8" text-anchor="middle">28</text>
<text x="281.4" y="513.1" font-size="12.8" text-anchor="middle">29</text>
<text x="324.6" y="513.1" font-size="12.8" text-anchor="middle">30</text>
<text x="0.9" y="284.7" font-size="14">(b)</text>
<text transform="translate(13.0,445.2) rotate(-90)" font-size="14.25">Intensity (arb. units)</text>
<text x="131.6" y="531.6" font-size="14" style="white-space:pre">2<tspan font-family='"Liberation Serif", "DejaVu Serif", serif' font-size="14">&#952;</tspan>  (degree)</text>
<text x="189" y="289.4" font-size="12.2">(110)</text>
<line x1="25.2" y1="284.1" x2="62.1" y2="284.1" stroke="#000" stroke-width="1.35"/>
<line x1="25.2" y1="298.6" x2="62.1" y2="298.6" stroke="#000" stroke-width="1.4" stroke-dasharray="3.7 1.75"/>
<line x1="25.2" y1="314.5" x2="62.1" y2="314.5" stroke="#000" stroke-width="1.4" stroke-dasharray="6.3 2.7 1.6 2.9"/>
<text x="63.6" y="288.6" font-size="12">As-grown</text>
<text x="63.6" y="304" font-size="12">Air-annealed</text>
<text x="63.6" y="319.2" font-size="12">Vaccum-annealed</text>
</svg>
</body></html>
